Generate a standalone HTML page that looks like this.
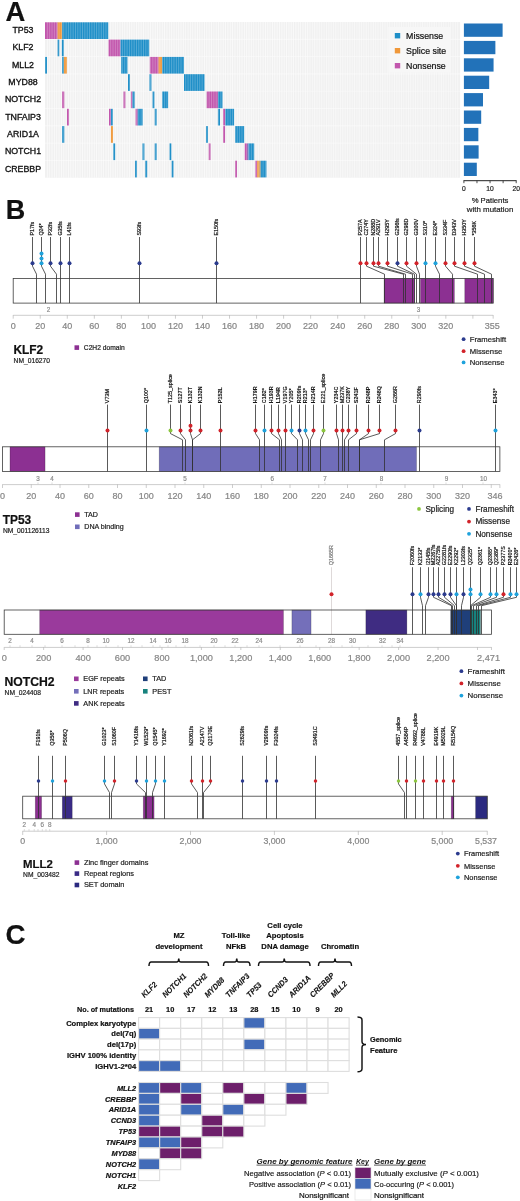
<!DOCTYPE html>
<html lang="en"><head><meta charset="utf-8"><title>Figure</title>
<style>
html,body{margin:0;padding:0;background:#fff;}
body{width:520px;height:1201px;overflow:hidden;font-family:"Liberation Sans", Arial, sans-serif;}
svg{display:block;font-family:"Liberation Sans", Arial, sans-serif;}
</style></head><body>
<svg width="520" height="1201" viewBox="0 0 520 1201">
<rect x="0" y="0" width="520" height="1201" fill="#ffffff"/>
<text x="5.40" y="20.90" font-size="27.4" text-anchor="start" font-weight="bold" font-style="normal" fill="#111" stroke="#111" stroke-width="0.2" >A</text>
<rect x="45.00" y="22.00" width="415.07" height="155.70" fill="#f1f1f1" stroke="none" stroke-width="0" />
<g stroke="#fbfbfb" stroke-width="0.6">
<line x1="47.34" y1="22.0" x2="47.34" y2="177.70"/>
<line x1="49.69" y1="22.0" x2="49.69" y2="177.70"/>
<line x1="52.03" y1="22.0" x2="52.03" y2="177.70"/>
<line x1="54.38" y1="22.0" x2="54.38" y2="177.70"/>
<line x1="56.73" y1="22.0" x2="56.73" y2="177.70"/>
<line x1="59.07" y1="22.0" x2="59.07" y2="177.70"/>
<line x1="61.42" y1="22.0" x2="61.42" y2="177.70"/>
<line x1="63.76" y1="22.0" x2="63.76" y2="177.70"/>
<line x1="66.11" y1="22.0" x2="66.11" y2="177.70"/>
<line x1="68.45" y1="22.0" x2="68.45" y2="177.70"/>
<line x1="70.80" y1="22.0" x2="70.80" y2="177.70"/>
<line x1="73.14" y1="22.0" x2="73.14" y2="177.70"/>
<line x1="75.48" y1="22.0" x2="75.48" y2="177.70"/>
<line x1="77.83" y1="22.0" x2="77.83" y2="177.70"/>
<line x1="80.18" y1="22.0" x2="80.18" y2="177.70"/>
<line x1="82.52" y1="22.0" x2="82.52" y2="177.70"/>
<line x1="84.87" y1="22.0" x2="84.87" y2="177.70"/>
<line x1="87.21" y1="22.0" x2="87.21" y2="177.70"/>
<line x1="89.56" y1="22.0" x2="89.56" y2="177.70"/>
<line x1="91.90" y1="22.0" x2="91.90" y2="177.70"/>
<line x1="94.25" y1="22.0" x2="94.25" y2="177.70"/>
<line x1="96.59" y1="22.0" x2="96.59" y2="177.70"/>
<line x1="98.94" y1="22.0" x2="98.94" y2="177.70"/>
<line x1="101.28" y1="22.0" x2="101.28" y2="177.70"/>
<line x1="103.62" y1="22.0" x2="103.62" y2="177.70"/>
<line x1="105.97" y1="22.0" x2="105.97" y2="177.70"/>
<line x1="108.31" y1="22.0" x2="108.31" y2="177.70"/>
<line x1="110.66" y1="22.0" x2="110.66" y2="177.70"/>
<line x1="113.01" y1="22.0" x2="113.01" y2="177.70"/>
<line x1="115.35" y1="22.0" x2="115.35" y2="177.70"/>
<line x1="117.70" y1="22.0" x2="117.70" y2="177.70"/>
<line x1="120.04" y1="22.0" x2="120.04" y2="177.70"/>
<line x1="122.39" y1="22.0" x2="122.39" y2="177.70"/>
<line x1="124.73" y1="22.0" x2="124.73" y2="177.70"/>
<line x1="127.08" y1="22.0" x2="127.08" y2="177.70"/>
<line x1="129.42" y1="22.0" x2="129.42" y2="177.70"/>
<line x1="131.76" y1="22.0" x2="131.76" y2="177.70"/>
<line x1="134.11" y1="22.0" x2="134.11" y2="177.70"/>
<line x1="136.46" y1="22.0" x2="136.46" y2="177.70"/>
<line x1="138.80" y1="22.0" x2="138.80" y2="177.70"/>
<line x1="141.15" y1="22.0" x2="141.15" y2="177.70"/>
<line x1="143.49" y1="22.0" x2="143.49" y2="177.70"/>
<line x1="145.84" y1="22.0" x2="145.84" y2="177.70"/>
<line x1="148.18" y1="22.0" x2="148.18" y2="177.70"/>
<line x1="150.53" y1="22.0" x2="150.53" y2="177.70"/>
<line x1="152.87" y1="22.0" x2="152.87" y2="177.70"/>
<line x1="155.22" y1="22.0" x2="155.22" y2="177.70"/>
<line x1="157.56" y1="22.0" x2="157.56" y2="177.70"/>
<line x1="159.91" y1="22.0" x2="159.91" y2="177.70"/>
<line x1="162.25" y1="22.0" x2="162.25" y2="177.70"/>
<line x1="164.60" y1="22.0" x2="164.60" y2="177.70"/>
<line x1="166.94" y1="22.0" x2="166.94" y2="177.70"/>
<line x1="169.29" y1="22.0" x2="169.29" y2="177.70"/>
<line x1="171.63" y1="22.0" x2="171.63" y2="177.70"/>
<line x1="173.98" y1="22.0" x2="173.98" y2="177.70"/>
<line x1="176.32" y1="22.0" x2="176.32" y2="177.70"/>
<line x1="178.67" y1="22.0" x2="178.67" y2="177.70"/>
<line x1="181.01" y1="22.0" x2="181.01" y2="177.70"/>
<line x1="183.36" y1="22.0" x2="183.36" y2="177.70"/>
<line x1="185.70" y1="22.0" x2="185.70" y2="177.70"/>
<line x1="188.05" y1="22.0" x2="188.05" y2="177.70"/>
<line x1="190.39" y1="22.0" x2="190.39" y2="177.70"/>
<line x1="192.74" y1="22.0" x2="192.74" y2="177.70"/>
<line x1="195.08" y1="22.0" x2="195.08" y2="177.70"/>
<line x1="197.43" y1="22.0" x2="197.43" y2="177.70"/>
<line x1="199.77" y1="22.0" x2="199.77" y2="177.70"/>
<line x1="202.12" y1="22.0" x2="202.12" y2="177.70"/>
<line x1="204.46" y1="22.0" x2="204.46" y2="177.70"/>
<line x1="206.81" y1="22.0" x2="206.81" y2="177.70"/>
<line x1="209.15" y1="22.0" x2="209.15" y2="177.70"/>
<line x1="211.50" y1="22.0" x2="211.50" y2="177.70"/>
<line x1="213.84" y1="22.0" x2="213.84" y2="177.70"/>
<line x1="216.19" y1="22.0" x2="216.19" y2="177.70"/>
<line x1="218.53" y1="22.0" x2="218.53" y2="177.70"/>
<line x1="220.88" y1="22.0" x2="220.88" y2="177.70"/>
<line x1="223.22" y1="22.0" x2="223.22" y2="177.70"/>
<line x1="225.57" y1="22.0" x2="225.57" y2="177.70"/>
<line x1="227.91" y1="22.0" x2="227.91" y2="177.70"/>
<line x1="230.26" y1="22.0" x2="230.26" y2="177.70"/>
<line x1="232.60" y1="22.0" x2="232.60" y2="177.70"/>
<line x1="234.95" y1="22.0" x2="234.95" y2="177.70"/>
<line x1="237.29" y1="22.0" x2="237.29" y2="177.70"/>
<line x1="239.64" y1="22.0" x2="239.64" y2="177.70"/>
<line x1="241.98" y1="22.0" x2="241.98" y2="177.70"/>
<line x1="244.33" y1="22.0" x2="244.33" y2="177.70"/>
<line x1="246.67" y1="22.0" x2="246.67" y2="177.70"/>
<line x1="249.02" y1="22.0" x2="249.02" y2="177.70"/>
<line x1="251.36" y1="22.0" x2="251.36" y2="177.70"/>
<line x1="253.71" y1="22.0" x2="253.71" y2="177.70"/>
<line x1="256.05" y1="22.0" x2="256.05" y2="177.70"/>
<line x1="258.39" y1="22.0" x2="258.39" y2="177.70"/>
<line x1="260.74" y1="22.0" x2="260.74" y2="177.70"/>
<line x1="263.09" y1="22.0" x2="263.09" y2="177.70"/>
<line x1="265.43" y1="22.0" x2="265.43" y2="177.70"/>
<line x1="267.77" y1="22.0" x2="267.77" y2="177.70"/>
<line x1="270.12" y1="22.0" x2="270.12" y2="177.70"/>
<line x1="272.47" y1="22.0" x2="272.47" y2="177.70"/>
<line x1="274.81" y1="22.0" x2="274.81" y2="177.70"/>
<line x1="277.16" y1="22.0" x2="277.16" y2="177.70"/>
<line x1="279.50" y1="22.0" x2="279.50" y2="177.70"/>
<line x1="281.85" y1="22.0" x2="281.85" y2="177.70"/>
<line x1="284.19" y1="22.0" x2="284.19" y2="177.70"/>
<line x1="286.54" y1="22.0" x2="286.54" y2="177.70"/>
<line x1="288.88" y1="22.0" x2="288.88" y2="177.70"/>
<line x1="291.23" y1="22.0" x2="291.23" y2="177.70"/>
<line x1="293.57" y1="22.0" x2="293.57" y2="177.70"/>
<line x1="295.92" y1="22.0" x2="295.92" y2="177.70"/>
<line x1="298.26" y1="22.0" x2="298.26" y2="177.70"/>
<line x1="300.61" y1="22.0" x2="300.61" y2="177.70"/>
<line x1="302.95" y1="22.0" x2="302.95" y2="177.70"/>
<line x1="305.30" y1="22.0" x2="305.30" y2="177.70"/>
<line x1="307.64" y1="22.0" x2="307.64" y2="177.70"/>
<line x1="309.99" y1="22.0" x2="309.99" y2="177.70"/>
<line x1="312.33" y1="22.0" x2="312.33" y2="177.70"/>
<line x1="314.68" y1="22.0" x2="314.68" y2="177.70"/>
<line x1="317.02" y1="22.0" x2="317.02" y2="177.70"/>
<line x1="319.37" y1="22.0" x2="319.37" y2="177.70"/>
<line x1="321.71" y1="22.0" x2="321.71" y2="177.70"/>
<line x1="324.06" y1="22.0" x2="324.06" y2="177.70"/>
<line x1="326.40" y1="22.0" x2="326.40" y2="177.70"/>
<line x1="328.75" y1="22.0" x2="328.75" y2="177.70"/>
<line x1="331.09" y1="22.0" x2="331.09" y2="177.70"/>
<line x1="333.44" y1="22.0" x2="333.44" y2="177.70"/>
<line x1="335.78" y1="22.0" x2="335.78" y2="177.70"/>
<line x1="338.12" y1="22.0" x2="338.12" y2="177.70"/>
<line x1="340.47" y1="22.0" x2="340.47" y2="177.70"/>
<line x1="342.81" y1="22.0" x2="342.81" y2="177.70"/>
<line x1="345.16" y1="22.0" x2="345.16" y2="177.70"/>
<line x1="347.51" y1="22.0" x2="347.51" y2="177.70"/>
<line x1="349.85" y1="22.0" x2="349.85" y2="177.70"/>
<line x1="352.20" y1="22.0" x2="352.20" y2="177.70"/>
<line x1="354.54" y1="22.0" x2="354.54" y2="177.70"/>
<line x1="356.89" y1="22.0" x2="356.89" y2="177.70"/>
<line x1="359.23" y1="22.0" x2="359.23" y2="177.70"/>
<line x1="361.58" y1="22.0" x2="361.58" y2="177.70"/>
<line x1="363.92" y1="22.0" x2="363.92" y2="177.70"/>
<line x1="366.27" y1="22.0" x2="366.27" y2="177.70"/>
<line x1="368.61" y1="22.0" x2="368.61" y2="177.70"/>
<line x1="370.96" y1="22.0" x2="370.96" y2="177.70"/>
<line x1="373.30" y1="22.0" x2="373.30" y2="177.70"/>
<line x1="375.65" y1="22.0" x2="375.65" y2="177.70"/>
<line x1="377.99" y1="22.0" x2="377.99" y2="177.70"/>
<line x1="380.34" y1="22.0" x2="380.34" y2="177.70"/>
<line x1="382.68" y1="22.0" x2="382.68" y2="177.70"/>
<line x1="385.03" y1="22.0" x2="385.03" y2="177.70"/>
<line x1="387.37" y1="22.0" x2="387.37" y2="177.70"/>
<line x1="389.72" y1="22.0" x2="389.72" y2="177.70"/>
<line x1="392.06" y1="22.0" x2="392.06" y2="177.70"/>
<line x1="394.41" y1="22.0" x2="394.41" y2="177.70"/>
<line x1="396.75" y1="22.0" x2="396.75" y2="177.70"/>
<line x1="399.10" y1="22.0" x2="399.10" y2="177.70"/>
<line x1="401.44" y1="22.0" x2="401.44" y2="177.70"/>
<line x1="403.79" y1="22.0" x2="403.79" y2="177.70"/>
<line x1="406.13" y1="22.0" x2="406.13" y2="177.70"/>
<line x1="408.48" y1="22.0" x2="408.48" y2="177.70"/>
<line x1="410.82" y1="22.0" x2="410.82" y2="177.70"/>
<line x1="413.17" y1="22.0" x2="413.17" y2="177.70"/>
<line x1="415.51" y1="22.0" x2="415.51" y2="177.70"/>
<line x1="417.86" y1="22.0" x2="417.86" y2="177.70"/>
<line x1="420.20" y1="22.0" x2="420.20" y2="177.70"/>
<line x1="422.55" y1="22.0" x2="422.55" y2="177.70"/>
<line x1="424.89" y1="22.0" x2="424.89" y2="177.70"/>
<line x1="427.24" y1="22.0" x2="427.24" y2="177.70"/>
<line x1="429.58" y1="22.0" x2="429.58" y2="177.70"/>
<line x1="431.93" y1="22.0" x2="431.93" y2="177.70"/>
<line x1="434.27" y1="22.0" x2="434.27" y2="177.70"/>
<line x1="436.62" y1="22.0" x2="436.62" y2="177.70"/>
<line x1="438.96" y1="22.0" x2="438.96" y2="177.70"/>
<line x1="441.31" y1="22.0" x2="441.31" y2="177.70"/>
<line x1="443.65" y1="22.0" x2="443.65" y2="177.70"/>
<line x1="446.00" y1="22.0" x2="446.00" y2="177.70"/>
<line x1="448.34" y1="22.0" x2="448.34" y2="177.70"/>
<line x1="450.69" y1="22.0" x2="450.69" y2="177.70"/>
<line x1="453.03" y1="22.0" x2="453.03" y2="177.70"/>
<line x1="455.38" y1="22.0" x2="455.38" y2="177.70"/>
<line x1="457.72" y1="22.0" x2="457.72" y2="177.70"/>
<line x1="45.0" y1="39.30" x2="460.07" y2="39.30"/>
<line x1="45.0" y1="56.60" x2="460.07" y2="56.60"/>
<line x1="45.0" y1="73.90" x2="460.07" y2="73.90"/>
<line x1="45.0" y1="91.20" x2="460.07" y2="91.20"/>
<line x1="45.0" y1="108.50" x2="460.07" y2="108.50"/>
<line x1="45.0" y1="125.80" x2="460.07" y2="125.80"/>
<line x1="45.0" y1="143.10" x2="460.07" y2="143.10"/>
<line x1="45.0" y1="160.40" x2="460.07" y2="160.40"/>
</g>
<rect x="45.00" y="22.30" width="12.60" height="16.70" fill="#c257ad" stroke="none" stroke-width="0" />
<rect x="57.60" y="22.30" width="4.60" height="16.70" fill="#f0983a" stroke="none" stroke-width="0" />
<rect x="62.20" y="22.30" width="46.10" height="16.70" fill="#1f8fc8" stroke="none" stroke-width="0" />
<rect x="57.60" y="39.60" width="1.70" height="16.70" fill="#1f8fc8" stroke="none" stroke-width="0" />
<rect x="61.80" y="39.60" width="2.00" height="16.70" fill="#1f8fc8" stroke="none" stroke-width="0" />
<rect x="108.50" y="39.60" width="12.00" height="16.70" fill="#c257ad" stroke="none" stroke-width="0" />
<rect x="120.50" y="39.60" width="28.70" height="16.70" fill="#1f8fc8" stroke="none" stroke-width="0" />
<rect x="45.20" y="56.90" width="1.80" height="16.70" fill="#1f8fc8" stroke="none" stroke-width="0" />
<rect x="62.20" y="56.90" width="1.70" height="16.70" fill="#1f8fc8" stroke="none" stroke-width="0" />
<rect x="63.90" y="56.90" width="3.00" height="16.70" fill="#f0983a" stroke="none" stroke-width="0" />
<rect x="121.20" y="56.90" width="6.30" height="16.70" fill="#1f8fc8" stroke="none" stroke-width="0" />
<rect x="149.80" y="56.90" width="8.80" height="16.70" fill="#c257ad" stroke="none" stroke-width="0" />
<rect x="158.60" y="56.90" width="3.60" height="16.70" fill="#f0983a" stroke="none" stroke-width="0" />
<rect x="162.20" y="56.90" width="21.80" height="16.70" fill="#1f8fc8" stroke="none" stroke-width="0" />
<rect x="128.00" y="74.20" width="2.00" height="16.70" fill="#1f8fc8" stroke="none" stroke-width="0" />
<rect x="149.50" y="74.20" width="1.90" height="16.70" fill="#1f8fc8" stroke="none" stroke-width="0" />
<rect x="184.00" y="74.20" width="20.60" height="16.70" fill="#1f8fc8" stroke="none" stroke-width="0" />
<rect x="62.20" y="91.50" width="2.10" height="16.70" fill="#c257ad" stroke="none" stroke-width="0" />
<rect x="123.50" y="91.50" width="1.90" height="16.70" fill="#c257ad" stroke="none" stroke-width="0" />
<rect x="130.90" y="91.50" width="1.60" height="16.70" fill="#c257ad" stroke="none" stroke-width="0" />
<rect x="132.50" y="91.50" width="2.20" height="16.70" fill="#1f8fc8" stroke="none" stroke-width="0" />
<rect x="152.50" y="91.50" width="1.90" height="16.70" fill="#1f8fc8" stroke="none" stroke-width="0" />
<rect x="162.20" y="91.50" width="5.90" height="16.70" fill="#1f8fc8" stroke="none" stroke-width="0" />
<rect x="206.60" y="91.50" width="11.30" height="16.70" fill="#c257ad" stroke="none" stroke-width="0" />
<rect x="217.90" y="91.50" width="4.60" height="16.70" fill="#1f8fc8" stroke="none" stroke-width="0" />
<rect x="67.00" y="108.80" width="2.00" height="16.70" fill="#c257ad" stroke="none" stroke-width="0" />
<rect x="109.00" y="108.80" width="1.90" height="16.70" fill="#c257ad" stroke="none" stroke-width="0" />
<rect x="110.90" y="108.80" width="1.90" height="16.70" fill="#1f8fc8" stroke="none" stroke-width="0" />
<rect x="135.60" y="108.80" width="2.10" height="16.70" fill="#c257ad" stroke="none" stroke-width="0" />
<rect x="137.70" y="108.80" width="4.90" height="16.70" fill="#1f8fc8" stroke="none" stroke-width="0" />
<rect x="154.70" y="108.80" width="1.90" height="16.70" fill="#1f8fc8" stroke="none" stroke-width="0" />
<rect x="217.90" y="108.80" width="2.10" height="16.70" fill="#1f8fc8" stroke="none" stroke-width="0" />
<rect x="223.10" y="108.80" width="2.20" height="16.70" fill="#c257ad" stroke="none" stroke-width="0" />
<rect x="225.30" y="108.80" width="8.80" height="16.70" fill="#1f8fc8" stroke="none" stroke-width="0" />
<rect x="62.20" y="126.10" width="2.10" height="16.70" fill="#1f8fc8" stroke="none" stroke-width="0" />
<rect x="110.90" y="126.10" width="2.10" height="16.70" fill="#f0983a" stroke="none" stroke-width="0" />
<rect x="206.00" y="126.10" width="1.90" height="16.70" fill="#1f8fc8" stroke="none" stroke-width="0" />
<rect x="223.10" y="126.10" width="2.00" height="16.70" fill="#c257ad" stroke="none" stroke-width="0" />
<rect x="235.20" y="126.10" width="9.00" height="16.70" fill="#1f8fc8" stroke="none" stroke-width="0" />
<rect x="113.30" y="143.40" width="1.90" height="16.70" fill="#1f8fc8" stroke="none" stroke-width="0" />
<rect x="142.50" y="143.40" width="1.90" height="16.70" fill="#1f8fc8" stroke="none" stroke-width="0" />
<rect x="154.70" y="143.40" width="1.90" height="16.70" fill="#1f8fc8" stroke="none" stroke-width="0" />
<rect x="169.50" y="143.40" width="1.90" height="16.70" fill="#1f8fc8" stroke="none" stroke-width="0" />
<rect x="208.70" y="143.40" width="1.80" height="16.70" fill="#c257ad" stroke="none" stroke-width="0" />
<rect x="244.70" y="143.40" width="2.30" height="16.70" fill="#c257ad" stroke="none" stroke-width="0" />
<rect x="247.00" y="143.40" width="1.50" height="16.70" fill="#8a6fb8" stroke="none" stroke-width="0" />
<rect x="248.50" y="143.40" width="5.70" height="16.70" fill="#1f8fc8" stroke="none" stroke-width="0" />
<rect x="135.10" y="160.70" width="1.90" height="16.70" fill="#1f8fc8" stroke="none" stroke-width="0" />
<rect x="145.20" y="160.70" width="2.00" height="16.70" fill="#1f8fc8" stroke="none" stroke-width="0" />
<rect x="171.60" y="160.70" width="1.90" height="16.70" fill="#1f8fc8" stroke="none" stroke-width="0" />
<rect x="235.20" y="160.70" width="1.80" height="16.70" fill="#c257ad" stroke="none" stroke-width="0" />
<rect x="255.40" y="160.70" width="1.80" height="16.70" fill="#c257ad" stroke="none" stroke-width="0" />
<rect x="257.20" y="160.70" width="2.50" height="16.70" fill="#f0983a" stroke="none" stroke-width="0" />
<rect x="259.70" y="160.70" width="1.30" height="16.70" fill="#7d9a98" stroke="none" stroke-width="0" />
<rect x="261.00" y="160.70" width="5.40" height="16.70" fill="#1f8fc8" stroke="none" stroke-width="0" />
<g stroke="#ffffff" stroke-opacity="0.42" stroke-width="0.6">
<line x1="47.34" y1="22.0" x2="47.34" y2="177.70"/>
<line x1="49.69" y1="22.0" x2="49.69" y2="177.70"/>
<line x1="52.03" y1="22.0" x2="52.03" y2="177.70"/>
<line x1="54.38" y1="22.0" x2="54.38" y2="177.70"/>
<line x1="56.73" y1="22.0" x2="56.73" y2="177.70"/>
<line x1="59.07" y1="22.0" x2="59.07" y2="177.70"/>
<line x1="61.42" y1="22.0" x2="61.42" y2="177.70"/>
<line x1="63.76" y1="22.0" x2="63.76" y2="177.70"/>
<line x1="66.11" y1="22.0" x2="66.11" y2="177.70"/>
<line x1="68.45" y1="22.0" x2="68.45" y2="177.70"/>
<line x1="70.80" y1="22.0" x2="70.80" y2="177.70"/>
<line x1="73.14" y1="22.0" x2="73.14" y2="177.70"/>
<line x1="75.48" y1="22.0" x2="75.48" y2="177.70"/>
<line x1="77.83" y1="22.0" x2="77.83" y2="177.70"/>
<line x1="80.18" y1="22.0" x2="80.18" y2="177.70"/>
<line x1="82.52" y1="22.0" x2="82.52" y2="177.70"/>
<line x1="84.87" y1="22.0" x2="84.87" y2="177.70"/>
<line x1="87.21" y1="22.0" x2="87.21" y2="177.70"/>
<line x1="89.56" y1="22.0" x2="89.56" y2="177.70"/>
<line x1="91.90" y1="22.0" x2="91.90" y2="177.70"/>
<line x1="94.25" y1="22.0" x2="94.25" y2="177.70"/>
<line x1="96.59" y1="22.0" x2="96.59" y2="177.70"/>
<line x1="98.94" y1="22.0" x2="98.94" y2="177.70"/>
<line x1="101.28" y1="22.0" x2="101.28" y2="177.70"/>
<line x1="103.62" y1="22.0" x2="103.62" y2="177.70"/>
<line x1="105.97" y1="22.0" x2="105.97" y2="177.70"/>
<line x1="108.31" y1="22.0" x2="108.31" y2="177.70"/>
<line x1="110.66" y1="22.0" x2="110.66" y2="177.70"/>
<line x1="113.01" y1="22.0" x2="113.01" y2="177.70"/>
<line x1="115.35" y1="22.0" x2="115.35" y2="177.70"/>
<line x1="117.70" y1="22.0" x2="117.70" y2="177.70"/>
<line x1="120.04" y1="22.0" x2="120.04" y2="177.70"/>
<line x1="122.39" y1="22.0" x2="122.39" y2="177.70"/>
<line x1="124.73" y1="22.0" x2="124.73" y2="177.70"/>
<line x1="127.08" y1="22.0" x2="127.08" y2="177.70"/>
<line x1="129.42" y1="22.0" x2="129.42" y2="177.70"/>
<line x1="131.76" y1="22.0" x2="131.76" y2="177.70"/>
<line x1="134.11" y1="22.0" x2="134.11" y2="177.70"/>
<line x1="136.46" y1="22.0" x2="136.46" y2="177.70"/>
<line x1="138.80" y1="22.0" x2="138.80" y2="177.70"/>
<line x1="141.15" y1="22.0" x2="141.15" y2="177.70"/>
<line x1="143.49" y1="22.0" x2="143.49" y2="177.70"/>
<line x1="145.84" y1="22.0" x2="145.84" y2="177.70"/>
<line x1="148.18" y1="22.0" x2="148.18" y2="177.70"/>
<line x1="150.53" y1="22.0" x2="150.53" y2="177.70"/>
<line x1="152.87" y1="22.0" x2="152.87" y2="177.70"/>
<line x1="155.22" y1="22.0" x2="155.22" y2="177.70"/>
<line x1="157.56" y1="22.0" x2="157.56" y2="177.70"/>
<line x1="159.91" y1="22.0" x2="159.91" y2="177.70"/>
<line x1="162.25" y1="22.0" x2="162.25" y2="177.70"/>
<line x1="164.60" y1="22.0" x2="164.60" y2="177.70"/>
<line x1="166.94" y1="22.0" x2="166.94" y2="177.70"/>
<line x1="169.29" y1="22.0" x2="169.29" y2="177.70"/>
<line x1="171.63" y1="22.0" x2="171.63" y2="177.70"/>
<line x1="173.98" y1="22.0" x2="173.98" y2="177.70"/>
<line x1="176.32" y1="22.0" x2="176.32" y2="177.70"/>
<line x1="178.67" y1="22.0" x2="178.67" y2="177.70"/>
<line x1="181.01" y1="22.0" x2="181.01" y2="177.70"/>
<line x1="183.36" y1="22.0" x2="183.36" y2="177.70"/>
<line x1="185.70" y1="22.0" x2="185.70" y2="177.70"/>
<line x1="188.05" y1="22.0" x2="188.05" y2="177.70"/>
<line x1="190.39" y1="22.0" x2="190.39" y2="177.70"/>
<line x1="192.74" y1="22.0" x2="192.74" y2="177.70"/>
<line x1="195.08" y1="22.0" x2="195.08" y2="177.70"/>
<line x1="197.43" y1="22.0" x2="197.43" y2="177.70"/>
<line x1="199.77" y1="22.0" x2="199.77" y2="177.70"/>
<line x1="202.12" y1="22.0" x2="202.12" y2="177.70"/>
<line x1="204.46" y1="22.0" x2="204.46" y2="177.70"/>
<line x1="206.81" y1="22.0" x2="206.81" y2="177.70"/>
<line x1="209.15" y1="22.0" x2="209.15" y2="177.70"/>
<line x1="211.50" y1="22.0" x2="211.50" y2="177.70"/>
<line x1="213.84" y1="22.0" x2="213.84" y2="177.70"/>
<line x1="216.19" y1="22.0" x2="216.19" y2="177.70"/>
<line x1="218.53" y1="22.0" x2="218.53" y2="177.70"/>
<line x1="220.88" y1="22.0" x2="220.88" y2="177.70"/>
<line x1="223.22" y1="22.0" x2="223.22" y2="177.70"/>
<line x1="225.57" y1="22.0" x2="225.57" y2="177.70"/>
<line x1="227.91" y1="22.0" x2="227.91" y2="177.70"/>
<line x1="230.26" y1="22.0" x2="230.26" y2="177.70"/>
<line x1="232.60" y1="22.0" x2="232.60" y2="177.70"/>
<line x1="234.95" y1="22.0" x2="234.95" y2="177.70"/>
<line x1="237.29" y1="22.0" x2="237.29" y2="177.70"/>
<line x1="239.64" y1="22.0" x2="239.64" y2="177.70"/>
<line x1="241.98" y1="22.0" x2="241.98" y2="177.70"/>
<line x1="244.33" y1="22.0" x2="244.33" y2="177.70"/>
<line x1="246.67" y1="22.0" x2="246.67" y2="177.70"/>
<line x1="249.02" y1="22.0" x2="249.02" y2="177.70"/>
<line x1="251.36" y1="22.0" x2="251.36" y2="177.70"/>
<line x1="253.71" y1="22.0" x2="253.71" y2="177.70"/>
<line x1="256.05" y1="22.0" x2="256.05" y2="177.70"/>
<line x1="258.39" y1="22.0" x2="258.39" y2="177.70"/>
<line x1="260.74" y1="22.0" x2="260.74" y2="177.70"/>
<line x1="263.09" y1="22.0" x2="263.09" y2="177.70"/>
<line x1="265.43" y1="22.0" x2="265.43" y2="177.70"/>
<line x1="267.77" y1="22.0" x2="267.77" y2="177.70"/>
<line x1="270.12" y1="22.0" x2="270.12" y2="177.70"/>
<line x1="272.47" y1="22.0" x2="272.47" y2="177.70"/>
<line x1="274.81" y1="22.0" x2="274.81" y2="177.70"/>
<line x1="277.16" y1="22.0" x2="277.16" y2="177.70"/>
<line x1="279.50" y1="22.0" x2="279.50" y2="177.70"/>
<line x1="281.85" y1="22.0" x2="281.85" y2="177.70"/>
<line x1="284.19" y1="22.0" x2="284.19" y2="177.70"/>
<line x1="286.54" y1="22.0" x2="286.54" y2="177.70"/>
<line x1="288.88" y1="22.0" x2="288.88" y2="177.70"/>
<line x1="291.23" y1="22.0" x2="291.23" y2="177.70"/>
<line x1="293.57" y1="22.0" x2="293.57" y2="177.70"/>
<line x1="295.92" y1="22.0" x2="295.92" y2="177.70"/>
<line x1="298.26" y1="22.0" x2="298.26" y2="177.70"/>
<line x1="300.61" y1="22.0" x2="300.61" y2="177.70"/>
<line x1="302.95" y1="22.0" x2="302.95" y2="177.70"/>
<line x1="305.30" y1="22.0" x2="305.30" y2="177.70"/>
<line x1="307.64" y1="22.0" x2="307.64" y2="177.70"/>
</g>
<text x="23.00" y="33.15" font-size="8.8" text-anchor="middle" font-weight="normal" font-style="normal" fill="#111" stroke="#111" stroke-width="0.2" style="stroke-width:0.32">TP53</text>
<text x="23.00" y="50.45" font-size="8.8" text-anchor="middle" font-weight="normal" font-style="normal" fill="#111" stroke="#111" stroke-width="0.2" style="stroke-width:0.32">KLF2</text>
<text x="23.00" y="67.75" font-size="8.8" text-anchor="middle" font-weight="normal" font-style="normal" fill="#111" stroke="#111" stroke-width="0.2" style="stroke-width:0.32">MLL2</text>
<text x="23.00" y="85.05" font-size="8.8" text-anchor="middle" font-weight="normal" font-style="normal" fill="#111" stroke="#111" stroke-width="0.2" style="stroke-width:0.32">MYD88</text>
<text x="23.00" y="102.35" font-size="8.8" text-anchor="middle" font-weight="normal" font-style="normal" fill="#111" stroke="#111" stroke-width="0.2" style="stroke-width:0.32">NOTCH2</text>
<text x="23.00" y="119.65" font-size="8.8" text-anchor="middle" font-weight="normal" font-style="normal" fill="#111" stroke="#111" stroke-width="0.2" style="stroke-width:0.32">TNFAIP3</text>
<text x="23.00" y="136.95" font-size="8.8" text-anchor="middle" font-weight="normal" font-style="normal" fill="#111" stroke="#111" stroke-width="0.2" style="stroke-width:0.32">ARID1A</text>
<text x="23.00" y="154.25" font-size="8.8" text-anchor="middle" font-weight="normal" font-style="normal" fill="#111" stroke="#111" stroke-width="0.2" style="stroke-width:0.32">NOTCH1</text>
<text x="23.00" y="171.55" font-size="8.8" text-anchor="middle" font-weight="normal" font-style="normal" fill="#111" stroke="#111" stroke-width="0.2" style="stroke-width:0.32">CREBBP</text>
<rect x="388.30" y="27.00" width="62.00" height="45.60" fill="#f7f7f7" stroke="none" stroke-width="0" />
<rect x="394.80" y="33.00" width="5.40" height="5.40" fill="#1f8fc8" stroke="none" stroke-width="0" />
<text x="406.10" y="38.80" font-size="8.8" text-anchor="start" font-weight="normal" font-style="normal" fill="#111" stroke="#111" stroke-width="0.2" >Missense</text>
<rect x="394.80" y="48.00" width="5.40" height="5.40" fill="#f0983a" stroke="none" stroke-width="0" />
<text x="406.10" y="53.80" font-size="8.8" text-anchor="start" font-weight="normal" font-style="normal" fill="#111" stroke="#111" stroke-width="0.2" >Splice site</text>
<rect x="394.80" y="63.00" width="5.40" height="5.40" fill="#c257ad" stroke="none" stroke-width="0" />
<text x="406.10" y="68.80" font-size="8.8" text-anchor="start" font-weight="normal" font-style="normal" fill="#111" stroke="#111" stroke-width="0.2" >Nonsense</text>
<rect x="463.90" y="23.50" width="38.70" height="13.30" fill="#2272b9" stroke="none" stroke-width="0" />
<rect x="463.90" y="40.90" width="31.48" height="13.30" fill="#2272b9" stroke="none" stroke-width="0" />
<rect x="463.90" y="58.30" width="29.67" height="13.30" fill="#2272b9" stroke="none" stroke-width="0" />
<rect x="463.90" y="75.70" width="25.28" height="13.30" fill="#2272b9" stroke="none" stroke-width="0" />
<rect x="463.90" y="93.10" width="19.09" height="13.30" fill="#2272b9" stroke="none" stroke-width="0" />
<rect x="463.90" y="110.50" width="17.29" height="13.30" fill="#2272b9" stroke="none" stroke-width="0" />
<rect x="463.90" y="127.90" width="14.45" height="13.30" fill="#2272b9" stroke="none" stroke-width="0" />
<rect x="463.90" y="145.30" width="14.71" height="13.30" fill="#2272b9" stroke="none" stroke-width="0" />
<rect x="463.90" y="162.70" width="12.90" height="13.30" fill="#2272b9" stroke="none" stroke-width="0" />
<line x1="463.50" y1="180.70" x2="516.60" y2="180.70" stroke="#222" stroke-width="1.0" />
<line x1="463.90" y1="180.70" x2="463.90" y2="183.20" stroke="#222" stroke-width="0.8" />
<line x1="476.97" y1="180.70" x2="476.97" y2="183.20" stroke="#222" stroke-width="0.8" />
<line x1="490.05" y1="180.70" x2="490.05" y2="183.20" stroke="#222" stroke-width="0.8" />
<line x1="503.12" y1="180.70" x2="503.12" y2="183.20" stroke="#222" stroke-width="0.8" />
<line x1="516.20" y1="180.70" x2="516.20" y2="183.20" stroke="#222" stroke-width="0.8" />
<text x="463.90" y="191.20" font-size="6.7" text-anchor="middle" font-weight="normal" font-style="normal" fill="#222" stroke="#222" stroke-width="0.2" >0</text>
<text x="490.05" y="191.20" font-size="6.7" text-anchor="middle" font-weight="normal" font-style="normal" fill="#222" stroke="#222" stroke-width="0.2" >10</text>
<text x="516.20" y="191.20" font-size="6.7" text-anchor="middle" font-weight="normal" font-style="normal" fill="#222" stroke="#222" stroke-width="0.2" >20</text>
<text x="490.00" y="202.80" font-size="7.7" text-anchor="middle" font-weight="normal" font-style="normal" fill="#222" stroke="#222" stroke-width="0.2" >% Patients</text>
<text x="490.10" y="212.00" font-size="7.9" text-anchor="middle" font-weight="normal" font-style="normal" fill="#222" stroke="#222" stroke-width="0.2" >with mutation</text>
<text x="5.70" y="218.60" font-size="27.0" text-anchor="start" font-weight="bold" font-style="normal" fill="#111" stroke="#111" stroke-width="0.2" >B</text>
<rect x="13.20" y="278.50" width="479.96" height="24.60" fill="#ffffff" stroke="none" stroke-width="0" />
<rect x="384.05" y="278.50" width="30.42" height="24.60" fill="#8c3092" stroke="#000" stroke-width="0.7" stroke-opacity="0.28"/>
<rect x="420.42" y="278.50" width="33.94" height="24.60" fill="#8c3092" stroke="#000" stroke-width="0.7" stroke-opacity="0.28"/>
<rect x="464.77" y="278.50" width="28.39" height="24.60" fill="#8c3092" stroke="#000" stroke-width="0.7" stroke-opacity="0.28"/>
<polyline fill="none" stroke="#303030" stroke-width="0.8" points="32.50,237.00 32.50,266.20 36.50,274.20 36.50,303.10"/>
<circle cx="32.50" cy="263.20" r="2.0" fill="#2b3b8e"/>
<text transform="translate(34.05,235.60) rotate(-90)" font-size="5.4" font-weight="normal" fill="#1a1a1a" stroke="#1a1a1a" stroke-width="0.22">P17fs</text>
<polyline fill="none" stroke="#303030" stroke-width="0.8" points="41.50,237.00 41.50,266.20 45.50,274.20 45.50,303.10"/>
<circle cx="41.50" cy="263.20" r="2.0" fill="#1ea2dc"/>
<circle cx="41.50" cy="258.40" r="2.0" fill="#1ea2dc"/>
<circle cx="41.50" cy="253.60" r="2.0" fill="#1ea2dc"/>
<text transform="translate(43.30,235.60) rotate(-90)" font-size="5.4" font-weight="normal" fill="#1a1a1a" stroke="#1a1a1a" stroke-width="0.22">Q24*</text>
<polyline fill="none" stroke="#303030" stroke-width="0.8" points="50.50,237.00 50.50,266.20 56.50,274.20 56.50,303.10"/>
<circle cx="50.50" cy="263.20" r="2.0" fill="#2b3b8e"/>
<text transform="translate(52.30,235.60) rotate(-90)" font-size="5.4" font-weight="normal" fill="#1a1a1a" stroke="#1a1a1a" stroke-width="0.22">P32fs</text>
<polyline fill="none" stroke="#303030" stroke-width="0.8" points="60.50,237.00 60.50,303.10"/>
<circle cx="60.50" cy="263.20" r="2.0" fill="#2b3b8e"/>
<text transform="translate(61.55,235.60) rotate(-90)" font-size="5.4" font-weight="normal" fill="#1a1a1a" stroke="#1a1a1a" stroke-width="0.22">G35fs</text>
<polyline fill="none" stroke="#303030" stroke-width="0.8" points="69.50,237.00 69.50,303.10"/>
<circle cx="69.50" cy="263.20" r="2.0" fill="#2b3b8e"/>
<text transform="translate(71.05,235.60) rotate(-90)" font-size="5.4" font-weight="normal" fill="#1a1a1a" stroke="#1a1a1a" stroke-width="0.22">L41fs</text>
<polyline fill="none" stroke="#303030" stroke-width="0.8" points="139.50,237.00 139.50,303.10"/>
<circle cx="139.50" cy="263.20" r="2.0" fill="#2b3b8e"/>
<text transform="translate(140.55,235.60) rotate(-90)" font-size="5.4" font-weight="normal" fill="#1a1a1a" stroke="#1a1a1a" stroke-width="0.22">S93fs</text>
<polyline fill="none" stroke="#303030" stroke-width="0.8" points="216.50,237.00 216.50,303.10"/>
<circle cx="216.50" cy="263.20" r="2.0" fill="#2b3b8e"/>
<text transform="translate(217.55,235.60) rotate(-90)" font-size="5.4" font-weight="normal" fill="#1a1a1a" stroke="#1a1a1a" stroke-width="0.22">E150fs</text>
<polyline fill="none" stroke="#303030" stroke-width="0.8" points="360.50,237.00 360.50,303.10"/>
<circle cx="360.50" cy="263.20" r="2.0" fill="#d2232a"/>
<text transform="translate(361.65,235.60) rotate(-90)" font-size="5.4" font-weight="normal" fill="#1a1a1a" stroke="#1a1a1a" stroke-width="0.22">P257A</text>
<polyline fill="none" stroke="#303030" stroke-width="0.8" points="366.50,237.00 366.50,266.20 384.50,274.20 384.50,303.10"/>
<circle cx="366.50" cy="263.20" r="2.0" fill="#d2232a"/>
<text transform="translate(368.25,235.60) rotate(-90)" font-size="5.4" font-weight="normal" fill="#1a1a1a" stroke="#1a1a1a" stroke-width="0.22">C274Y</text>
<polyline fill="none" stroke="#303030" stroke-width="0.8" points="373.50,237.00 373.50,266.20 403.50,274.20 403.50,303.10"/>
<circle cx="373.50" cy="263.20" r="2.0" fill="#d2232a"/>
<text transform="translate(374.65,235.60) rotate(-90)" font-size="5.4" font-weight="normal" fill="#1a1a1a" stroke="#1a1a1a" stroke-width="0.22">N288D</text>
<polyline fill="none" stroke="#303030" stroke-width="0.8" points="378.50,237.00 378.50,266.20 405.50,274.20 405.50,303.10"/>
<circle cx="378.50" cy="263.20" r="2.0" fill="#d2232a"/>
<text transform="translate(379.55,235.60) rotate(-90)" font-size="5.4" font-weight="normal" fill="#1a1a1a" stroke="#1a1a1a" stroke-width="0.22">A291V</text>
<polyline fill="none" stroke="#303030" stroke-width="0.8" points="387.50,237.00 387.50,266.20 412.50,274.20 412.50,303.10"/>
<circle cx="387.50" cy="263.20" r="2.0" fill="#d2232a"/>
<text transform="translate(389.05,235.60) rotate(-90)" font-size="5.4" font-weight="normal" fill="#1a1a1a" stroke="#1a1a1a" stroke-width="0.22">H295Y</text>
<polyline fill="none" stroke="#303030" stroke-width="0.8" points="397.50,237.00 397.50,266.20 414.50,274.20 414.50,303.10"/>
<circle cx="397.50" cy="263.20" r="2.0" fill="#2b3b8e"/>
<text transform="translate(398.55,235.60) rotate(-90)" font-size="5.4" font-weight="normal" fill="#1a1a1a" stroke="#1a1a1a" stroke-width="0.22">G296fs</text>
<polyline fill="none" stroke="#303030" stroke-width="0.8" points="406.50,237.00 406.50,266.20 416.50,274.20 416.50,303.10"/>
<circle cx="406.50" cy="263.20" r="2.0" fill="#d2232a"/>
<text transform="translate(408.35,235.60) rotate(-90)" font-size="5.4" font-weight="normal" fill="#1a1a1a" stroke="#1a1a1a" stroke-width="0.22">G298D</text>
<polyline fill="none" stroke="#303030" stroke-width="0.8" points="416.50,237.00 416.50,266.20 419.50,274.20 419.50,303.10"/>
<circle cx="416.50" cy="263.20" r="2.0" fill="#d2232a"/>
<text transform="translate(418.45,235.60) rotate(-90)" font-size="5.4" font-weight="normal" fill="#1a1a1a" stroke="#1a1a1a" stroke-width="0.22">G300V</text>
<polyline fill="none" stroke="#303030" stroke-width="0.8" points="425.50,237.00 425.50,303.10"/>
<circle cx="425.50" cy="263.20" r="2.0" fill="#1ea2dc"/>
<text transform="translate(427.45,235.60) rotate(-90)" font-size="5.4" font-weight="normal" fill="#1a1a1a" stroke="#1a1a1a" stroke-width="0.22">S310*</text>
<polyline fill="none" stroke="#303030" stroke-width="0.8" points="435.50,237.00 435.50,266.20 439.50,274.20 439.50,303.10"/>
<circle cx="435.50" cy="263.20" r="2.0" fill="#1ea2dc"/>
<text transform="translate(437.25,235.60) rotate(-90)" font-size="5.4" font-weight="normal" fill="#1a1a1a" stroke="#1a1a1a" stroke-width="0.22">E324*</text>
<polyline fill="none" stroke="#303030" stroke-width="0.8" points="445.50,237.00 445.50,266.20 452.50,274.20 452.50,303.10"/>
<circle cx="445.50" cy="263.20" r="2.0" fill="#d2232a"/>
<text transform="translate(446.75,235.60) rotate(-90)" font-size="5.4" font-weight="normal" fill="#1a1a1a" stroke="#1a1a1a" stroke-width="0.22">S334F</text>
<polyline fill="none" stroke="#303030" stroke-width="0.8" points="454.50,237.00 454.50,266.20 477.50,274.20 477.50,303.10"/>
<circle cx="454.50" cy="263.20" r="2.0" fill="#d2232a"/>
<text transform="translate(456.25,235.60) rotate(-90)" font-size="5.4" font-weight="normal" fill="#1a1a1a" stroke="#1a1a1a" stroke-width="0.22">D343V</text>
<polyline fill="none" stroke="#303030" stroke-width="0.8" points="464.50,237.00 464.50,266.20 484.50,274.20 484.50,303.10"/>
<circle cx="464.50" cy="263.20" r="2.0" fill="#d2232a"/>
<text transform="translate(466.05,235.60) rotate(-90)" font-size="5.4" font-weight="normal" fill="#1a1a1a" stroke="#1a1a1a" stroke-width="0.22">H350Y</text>
<polyline fill="none" stroke="#303030" stroke-width="0.8" points="474.50,237.00 474.50,266.20 491.50,274.20 491.50,303.10"/>
<circle cx="474.50" cy="263.20" r="2.0" fill="#d2232a"/>
<text transform="translate(475.55,235.60) rotate(-90)" font-size="5.4" font-weight="normal" fill="#1a1a1a" stroke="#1a1a1a" stroke-width="0.22">*356K</text>
<rect x="13.20" y="278.50" width="479.96" height="24.60" fill="none" stroke="#3c3c3c" stroke-width="0.8" />
<text x="48.50" y="311.60" font-size="6.3" text-anchor="middle" font-weight="normal" font-style="normal" fill="#8c8c8c" stroke="#8c8c8c" stroke-width="0.2" >2</text>
<text x="418.50" y="311.60" font-size="6.3" text-anchor="middle" font-weight="normal" font-style="normal" fill="#8c8c8c" stroke="#8c8c8c" stroke-width="0.2" >3</text>
<line x1="13.20" y1="315.30" x2="493.16" y2="315.30" stroke="#b8b8b8" stroke-width="0.7" />
<line x1="13.20" y1="315.00" x2="13.20" y2="318.70" stroke="#b8b8b8" stroke-width="0.7" />
<line x1="40.24" y1="315.00" x2="40.24" y2="318.70" stroke="#b8b8b8" stroke-width="0.7" />
<line x1="67.28" y1="315.00" x2="67.28" y2="318.70" stroke="#b8b8b8" stroke-width="0.7" />
<line x1="94.32" y1="315.00" x2="94.32" y2="318.70" stroke="#b8b8b8" stroke-width="0.7" />
<line x1="121.36" y1="315.00" x2="121.36" y2="318.70" stroke="#b8b8b8" stroke-width="0.7" />
<line x1="148.40" y1="315.00" x2="148.40" y2="318.70" stroke="#b8b8b8" stroke-width="0.7" />
<line x1="175.44" y1="315.00" x2="175.44" y2="318.70" stroke="#b8b8b8" stroke-width="0.7" />
<line x1="202.48" y1="315.00" x2="202.48" y2="318.70" stroke="#b8b8b8" stroke-width="0.7" />
<line x1="229.52" y1="315.00" x2="229.52" y2="318.70" stroke="#b8b8b8" stroke-width="0.7" />
<line x1="256.56" y1="315.00" x2="256.56" y2="318.70" stroke="#b8b8b8" stroke-width="0.7" />
<line x1="283.60" y1="315.00" x2="283.60" y2="318.70" stroke="#b8b8b8" stroke-width="0.7" />
<line x1="310.64" y1="315.00" x2="310.64" y2="318.70" stroke="#b8b8b8" stroke-width="0.7" />
<line x1="337.68" y1="315.00" x2="337.68" y2="318.70" stroke="#b8b8b8" stroke-width="0.7" />
<line x1="364.72" y1="315.00" x2="364.72" y2="318.70" stroke="#b8b8b8" stroke-width="0.7" />
<line x1="391.76" y1="315.00" x2="391.76" y2="318.70" stroke="#b8b8b8" stroke-width="0.7" />
<line x1="418.80" y1="315.00" x2="418.80" y2="318.70" stroke="#b8b8b8" stroke-width="0.7" />
<line x1="445.84" y1="315.00" x2="445.84" y2="318.70" stroke="#b8b8b8" stroke-width="0.7" />
<line x1="472.88" y1="315.00" x2="472.88" y2="318.70" stroke="#b8b8b8" stroke-width="0.7" />
<line x1="493.16" y1="315.00" x2="493.16" y2="318.70" stroke="#b8b8b8" stroke-width="0.7" />
<text x="13.20" y="329.40" font-size="9.0" text-anchor="middle" font-weight="normal" font-style="normal" fill="#868686" stroke="#868686" stroke-width="0.2" >0</text>
<text x="40.24" y="329.40" font-size="9.0" text-anchor="middle" font-weight="normal" font-style="normal" fill="#868686" stroke="#868686" stroke-width="0.2" >20</text>
<text x="67.28" y="329.40" font-size="9.0" text-anchor="middle" font-weight="normal" font-style="normal" fill="#868686" stroke="#868686" stroke-width="0.2" >40</text>
<text x="94.32" y="329.40" font-size="9.0" text-anchor="middle" font-weight="normal" font-style="normal" fill="#868686" stroke="#868686" stroke-width="0.2" >60</text>
<text x="121.36" y="329.40" font-size="9.0" text-anchor="middle" font-weight="normal" font-style="normal" fill="#868686" stroke="#868686" stroke-width="0.2" >80</text>
<text x="148.40" y="329.40" font-size="9.0" text-anchor="middle" font-weight="normal" font-style="normal" fill="#868686" stroke="#868686" stroke-width="0.2" >100</text>
<text x="175.44" y="329.40" font-size="9.0" text-anchor="middle" font-weight="normal" font-style="normal" fill="#868686" stroke="#868686" stroke-width="0.2" >120</text>
<text x="202.48" y="329.40" font-size="9.0" text-anchor="middle" font-weight="normal" font-style="normal" fill="#868686" stroke="#868686" stroke-width="0.2" >140</text>
<text x="229.52" y="329.40" font-size="9.0" text-anchor="middle" font-weight="normal" font-style="normal" fill="#868686" stroke="#868686" stroke-width="0.2" >160</text>
<text x="256.56" y="329.40" font-size="9.0" text-anchor="middle" font-weight="normal" font-style="normal" fill="#868686" stroke="#868686" stroke-width="0.2" >180</text>
<text x="283.60" y="329.40" font-size="9.0" text-anchor="middle" font-weight="normal" font-style="normal" fill="#868686" stroke="#868686" stroke-width="0.2" >200</text>
<text x="310.64" y="329.40" font-size="9.0" text-anchor="middle" font-weight="normal" font-style="normal" fill="#868686" stroke="#868686" stroke-width="0.2" >220</text>
<text x="337.68" y="329.40" font-size="9.0" text-anchor="middle" font-weight="normal" font-style="normal" fill="#868686" stroke="#868686" stroke-width="0.2" >240</text>
<text x="364.72" y="329.40" font-size="9.0" text-anchor="middle" font-weight="normal" font-style="normal" fill="#868686" stroke="#868686" stroke-width="0.2" >260</text>
<text x="391.76" y="329.40" font-size="9.0" text-anchor="middle" font-weight="normal" font-style="normal" fill="#868686" stroke="#868686" stroke-width="0.2" >280</text>
<text x="418.80" y="329.40" font-size="9.0" text-anchor="middle" font-weight="normal" font-style="normal" fill="#868686" stroke="#868686" stroke-width="0.2" >300</text>
<text x="445.84" y="329.40" font-size="9.0" text-anchor="middle" font-weight="normal" font-style="normal" fill="#868686" stroke="#868686" stroke-width="0.2" >320</text>
<text x="492.30" y="329.40" font-size="9.0" text-anchor="middle" font-weight="normal" font-style="normal" fill="#868686" stroke="#868686" stroke-width="0.2" >355</text>
<text x="13.50" y="354.20" font-size="11.9" text-anchor="start" font-weight="bold" font-style="normal" fill="#111" stroke="#111" stroke-width="0.2" >KLF2</text>
<text x="13.60" y="362.60" font-size="6.7" text-anchor="start" font-weight="normal" font-style="normal" fill="#222" stroke="#222" stroke-width="0.2" >NM_016270</text>
<rect x="74.50" y="345.30" width="4.60" height="4.60" fill="#8c3092" stroke="none" stroke-width="0" />
<text x="83.80" y="350.00" font-size="6.7" text-anchor="start" font-weight="normal" font-style="normal" fill="#222" stroke="#222" stroke-width="0.2" >C2H2 domain</text>
<circle cx="463.60" cy="339.20" r="1.9" fill="#2b3b8e"/>
<text x="469.80" y="341.95" font-size="7.7" text-anchor="start" font-weight="normal" font-style="normal" fill="#222" stroke="#222" stroke-width="0.2" >Frameshift</text>
<circle cx="463.60" cy="351.20" r="1.9" fill="#d2232a"/>
<text x="469.80" y="353.95" font-size="7.7" text-anchor="start" font-weight="normal" font-style="normal" fill="#222" stroke="#222" stroke-width="0.2" >Missense</text>
<circle cx="463.60" cy="362.40" r="1.9" fill="#1ea2dc"/>
<text x="469.80" y="365.15" font-size="7.7" text-anchor="start" font-weight="normal" font-style="normal" fill="#222" stroke="#222" stroke-width="0.2" >Nonsense</text>
<rect x="2.50" y="446.80" width="497.38" height="24.60" fill="#ffffff" stroke="none" stroke-width="0" />
<rect x="9.98" y="446.80" width="35.08" height="24.60" fill="#8c3092" stroke="#000" stroke-width="0.7" stroke-opacity="0.28"/>
<rect x="159.19" y="446.80" width="257.31" height="24.60" fill="#706db9" stroke="#000" stroke-width="0.7" stroke-opacity="0.28"/>
<polyline fill="none" stroke="#303030" stroke-width="0.8" points="107.50,404.60 107.50,471.40"/>
<circle cx="107.50" cy="430.60" r="2.0" fill="#d2232a"/>
<text transform="translate(109.05,403.20) rotate(-90)" font-size="5.4" font-weight="normal" fill="#1a1a1a" stroke="#1a1a1a" stroke-width="0.22">V73M</text>
<polyline fill="none" stroke="#303030" stroke-width="0.8" points="146.50,404.60 146.50,471.40"/>
<circle cx="146.50" cy="430.60" r="2.0" fill="#1ea2dc"/>
<text transform="translate(147.75,403.20) rotate(-90)" font-size="5.4" font-weight="bold" fill="#1a1a1a" stroke="#1a1a1a" stroke-width="0.12">Q100*</text>
<polyline fill="none" stroke="#303030" stroke-width="0.8" points="170.50,404.60 170.50,433.60 182.50,439.80 182.50,471.40"/>
<circle cx="170.50" cy="430.60" r="2.0" fill="#8cc63f"/>
<text transform="translate(171.95,403.20) rotate(-90)" font-size="5.4" font-weight="normal" fill="#1a1a1a" stroke="#1a1a1a" stroke-width="0.22">T125_splice</text>
<polyline fill="none" stroke="#303030" stroke-width="0.8" points="180.50,404.60 180.50,433.60 185.50,439.80 185.50,471.40"/>
<circle cx="180.50" cy="430.60" r="2.0" fill="#d2232a"/>
<text transform="translate(181.55,403.20) rotate(-90)" font-size="5.4" font-weight="bold" fill="#1a1a1a" stroke="#1a1a1a" stroke-width="0.12">S127T</text>
<polyline fill="none" stroke="#303030" stroke-width="0.8" points="190.50,404.60 190.50,433.60 192.50,439.80 192.50,471.40"/>
<circle cx="190.50" cy="430.60" r="2.0" fill="#d2232a"/>
<circle cx="190.50" cy="425.80" r="2.0" fill="#d2232a"/>
<text transform="translate(191.95,403.20) rotate(-90)" font-size="5.4" font-weight="bold" fill="#1a1a1a" stroke="#1a1a1a" stroke-width="0.12">K132T</text>
<polyline fill="none" stroke="#303030" stroke-width="0.8" points="200.50,404.60 200.50,433.60 192.50,439.80 192.50,471.40"/>
<circle cx="200.50" cy="430.60" r="2.0" fill="#d2232a"/>
<text transform="translate(201.95,403.20) rotate(-90)" font-size="5.4" font-weight="bold" fill="#1a1a1a" stroke="#1a1a1a" stroke-width="0.12">K132N</text>
<polyline fill="none" stroke="#303030" stroke-width="0.8" points="220.50,404.60 220.50,471.40"/>
<circle cx="220.50" cy="430.60" r="2.0" fill="#d2232a"/>
<text transform="translate(222.15,403.20) rotate(-90)" font-size="5.4" font-weight="bold" fill="#1a1a1a" stroke="#1a1a1a" stroke-width="0.12">P152L</text>
<polyline fill="none" stroke="#303030" stroke-width="0.8" points="255.50,404.60 255.50,433.60 259.50,439.80 259.50,471.40"/>
<circle cx="255.50" cy="430.60" r="2.0" fill="#d2232a"/>
<text transform="translate(257.35,403.20) rotate(-90)" font-size="5.4" font-weight="bold" fill="#1a1a1a" stroke="#1a1a1a" stroke-width="0.12">H179R</text>
<polyline fill="none" stroke="#303030" stroke-width="0.8" points="264.50,404.60 264.50,471.40"/>
<circle cx="264.50" cy="430.60" r="2.0" fill="#1ea2dc"/>
<text transform="translate(266.15,403.20) rotate(-90)" font-size="5.4" font-weight="bold" fill="#1a1a1a" stroke="#1a1a1a" stroke-width="0.12">C182*</text>
<polyline fill="none" stroke="#303030" stroke-width="0.8" points="271.50,404.60 271.50,433.60 279.50,439.80 279.50,471.40"/>
<circle cx="271.50" cy="430.60" r="2.0" fill="#d2232a"/>
<text transform="translate(273.45,403.20) rotate(-90)" font-size="5.4" font-weight="bold" fill="#1a1a1a" stroke="#1a1a1a" stroke-width="0.12">H193R</text>
<polyline fill="none" stroke="#303030" stroke-width="0.8" points="278.50,404.60 278.50,433.60 281.50,439.80 281.50,471.40"/>
<circle cx="278.50" cy="430.60" r="2.0" fill="#d2232a"/>
<text transform="translate(280.05,403.20) rotate(-90)" font-size="5.4" font-weight="bold" fill="#1a1a1a" stroke="#1a1a1a" stroke-width="0.12">L194R</text>
<polyline fill="none" stroke="#303030" stroke-width="0.8" points="285.50,404.60 285.50,471.40"/>
<circle cx="285.50" cy="430.60" r="2.0" fill="#d2232a"/>
<text transform="translate(286.55,403.20) rotate(-90)" font-size="5.4" font-weight="normal" fill="#1a1a1a" stroke="#1a1a1a" stroke-width="0.22">V197G</text>
<polyline fill="none" stroke="#303030" stroke-width="0.8" points="291.50,404.60 291.50,433.60 297.50,439.80 297.50,471.40"/>
<circle cx="291.50" cy="430.60" r="2.0" fill="#1ea2dc"/>
<text transform="translate(293.45,403.20) rotate(-90)" font-size="5.4" font-weight="normal" fill="#1a1a1a" stroke="#1a1a1a" stroke-width="0.22">Y205*</text>
<polyline fill="none" stroke="#303030" stroke-width="0.8" points="299.50,404.60 299.50,433.60 302.50,439.80 302.50,471.40"/>
<circle cx="299.50" cy="430.60" r="2.0" fill="#2b3b8e"/>
<text transform="translate(300.75,403.20) rotate(-90)" font-size="5.4" font-weight="bold" fill="#1a1a1a" stroke="#1a1a1a" stroke-width="0.12">R209fs</text>
<polyline fill="none" stroke="#303030" stroke-width="0.8" points="305.50,404.60 305.50,433.60 308.50,439.80 308.50,471.40"/>
<circle cx="305.50" cy="430.60" r="2.0" fill="#1ea2dc"/>
<text transform="translate(307.35,403.20) rotate(-90)" font-size="5.4" font-weight="bold" fill="#1a1a1a" stroke="#1a1a1a" stroke-width="0.12">R213*</text>
<polyline fill="none" stroke="#303030" stroke-width="0.8" points="313.50,404.60 313.50,433.60 310.50,439.80 310.50,471.40"/>
<circle cx="313.50" cy="430.60" r="2.0" fill="#d2232a"/>
<text transform="translate(315.35,403.20) rotate(-90)" font-size="5.4" font-weight="bold" fill="#1a1a1a" stroke="#1a1a1a" stroke-width="0.12">H214R</text>
<polyline fill="none" stroke="#303030" stroke-width="0.8" points="323.50,404.60 323.50,433.60 320.50,439.80 320.50,471.40"/>
<circle cx="323.50" cy="430.60" r="2.0" fill="#8cc63f"/>
<text transform="translate(325.15,403.20) rotate(-90)" font-size="5.4" font-weight="normal" fill="#1a1a1a" stroke="#1a1a1a" stroke-width="0.22">E221_splice</text>
<polyline fill="none" stroke="#303030" stroke-width="0.8" points="336.50,404.60 336.50,433.60 338.50,439.80 338.50,471.40"/>
<circle cx="336.50" cy="430.60" r="2.0" fill="#d2232a"/>
<text transform="translate(337.75,403.20) rotate(-90)" font-size="5.4" font-weight="bold" fill="#1a1a1a" stroke="#1a1a1a" stroke-width="0.12">Y234C</text>
<polyline fill="none" stroke="#303030" stroke-width="0.8" points="342.50,404.60 342.50,471.40"/>
<circle cx="342.50" cy="430.60" r="2.0" fill="#d2232a"/>
<text transform="translate(343.85,403.20) rotate(-90)" font-size="5.4" font-weight="normal" fill="#1a1a1a" stroke="#1a1a1a" stroke-width="0.22">M237K</text>
<polyline fill="none" stroke="#303030" stroke-width="0.8" points="348.50,404.60 348.50,433.60 344.50,439.80 344.50,471.40"/>
<circle cx="348.50" cy="430.60" r="2.0" fill="#d2232a"/>
<text transform="translate(350.35,403.20) rotate(-90)" font-size="5.4" font-weight="bold" fill="#1a1a1a" stroke="#1a1a1a" stroke-width="0.12">C238Y</text>
<polyline fill="none" stroke="#303030" stroke-width="0.8" points="356.50,404.60 356.50,433.60 348.50,439.80 348.50,471.40"/>
<circle cx="356.50" cy="430.60" r="2.0" fill="#d2232a"/>
<text transform="translate(358.05,403.20) rotate(-90)" font-size="5.4" font-weight="bold" fill="#1a1a1a" stroke="#1a1a1a" stroke-width="0.12">S241F</text>
<polyline fill="none" stroke="#303030" stroke-width="0.8" points="368.50,404.60 368.50,433.60 359.50,439.80 359.50,471.40"/>
<circle cx="368.50" cy="430.60" r="2.0" fill="#d2232a"/>
<text transform="translate(369.55,403.20) rotate(-90)" font-size="5.4" font-weight="bold" fill="#1a1a1a" stroke="#1a1a1a" stroke-width="0.12">R248P</text>
<polyline fill="none" stroke="#303030" stroke-width="0.8" points="379.50,404.60 379.50,433.60 359.50,439.80 359.50,471.40"/>
<circle cx="379.50" cy="430.60" r="2.0" fill="#d2232a"/>
<text transform="translate(381.15,403.20) rotate(-90)" font-size="5.4" font-weight="bold" fill="#1a1a1a" stroke="#1a1a1a" stroke-width="0.12">R248Q</text>
<polyline fill="none" stroke="#303030" stroke-width="0.8" points="395.50,404.60 395.50,433.60 384.50,439.80 384.50,471.40"/>
<circle cx="395.50" cy="430.60" r="2.0" fill="#d2232a"/>
<text transform="translate(396.55,403.20) rotate(-90)" font-size="5.4" font-weight="normal" fill="#1a1a1a" stroke="#1a1a1a" stroke-width="0.22">G266R</text>
<polyline fill="none" stroke="#303030" stroke-width="0.8" points="419.50,404.60 419.50,471.40"/>
<circle cx="419.50" cy="430.60" r="2.0" fill="#2b3b8e"/>
<text transform="translate(420.85,403.20) rotate(-90)" font-size="5.4" font-weight="normal" fill="#1a1a1a" stroke="#1a1a1a" stroke-width="0.22">R290fs</text>
<polyline fill="none" stroke="#303030" stroke-width="0.8" points="495.50,404.60 495.50,471.40"/>
<circle cx="495.50" cy="430.60" r="2.0" fill="#1ea2dc"/>
<text transform="translate(496.95,403.20) rotate(-90)" font-size="5.4" font-weight="bold" fill="#1a1a1a" stroke="#1a1a1a" stroke-width="0.12">E343*</text>
<rect x="2.50" y="446.80" width="497.38" height="24.60" fill="none" stroke="#3c3c3c" stroke-width="0.8" />
<text x="38.00" y="480.90" font-size="6.3" text-anchor="middle" font-weight="normal" font-style="normal" fill="#8c8c8c" stroke="#8c8c8c" stroke-width="0.2" >3</text>
<text x="52.00" y="480.90" font-size="6.3" text-anchor="middle" font-weight="normal" font-style="normal" fill="#8c8c8c" stroke="#8c8c8c" stroke-width="0.2" >4</text>
<text x="185.00" y="480.90" font-size="6.3" text-anchor="middle" font-weight="normal" font-style="normal" fill="#8c8c8c" stroke="#8c8c8c" stroke-width="0.2" >5</text>
<text x="272.30" y="480.90" font-size="6.3" text-anchor="middle" font-weight="normal" font-style="normal" fill="#8c8c8c" stroke="#8c8c8c" stroke-width="0.2" >6</text>
<text x="325.00" y="480.90" font-size="6.3" text-anchor="middle" font-weight="normal" font-style="normal" fill="#8c8c8c" stroke="#8c8c8c" stroke-width="0.2" >7</text>
<text x="381.50" y="480.90" font-size="6.3" text-anchor="middle" font-weight="normal" font-style="normal" fill="#8c8c8c" stroke="#8c8c8c" stroke-width="0.2" >8</text>
<text x="446.50" y="480.90" font-size="6.3" text-anchor="middle" font-weight="normal" font-style="normal" fill="#8c8c8c" stroke="#8c8c8c" stroke-width="0.2" >9</text>
<text x="483.50" y="480.90" font-size="6.3" text-anchor="middle" font-weight="normal" font-style="normal" fill="#8c8c8c" stroke="#8c8c8c" stroke-width="0.2" >10</text>
<line x1="2.50" y1="484.60" x2="499.88" y2="484.60" stroke="#b8b8b8" stroke-width="0.7" />
<line x1="2.50" y1="484.30" x2="2.50" y2="488.00" stroke="#b8b8b8" stroke-width="0.7" />
<line x1="31.25" y1="484.30" x2="31.25" y2="488.00" stroke="#b8b8b8" stroke-width="0.7" />
<line x1="60.00" y1="484.30" x2="60.00" y2="488.00" stroke="#b8b8b8" stroke-width="0.7" />
<line x1="88.75" y1="484.30" x2="88.75" y2="488.00" stroke="#b8b8b8" stroke-width="0.7" />
<line x1="117.50" y1="484.30" x2="117.50" y2="488.00" stroke="#b8b8b8" stroke-width="0.7" />
<line x1="146.25" y1="484.30" x2="146.25" y2="488.00" stroke="#b8b8b8" stroke-width="0.7" />
<line x1="175.00" y1="484.30" x2="175.00" y2="488.00" stroke="#b8b8b8" stroke-width="0.7" />
<line x1="203.75" y1="484.30" x2="203.75" y2="488.00" stroke="#b8b8b8" stroke-width="0.7" />
<line x1="232.50" y1="484.30" x2="232.50" y2="488.00" stroke="#b8b8b8" stroke-width="0.7" />
<line x1="261.25" y1="484.30" x2="261.25" y2="488.00" stroke="#b8b8b8" stroke-width="0.7" />
<line x1="290.00" y1="484.30" x2="290.00" y2="488.00" stroke="#b8b8b8" stroke-width="0.7" />
<line x1="318.75" y1="484.30" x2="318.75" y2="488.00" stroke="#b8b8b8" stroke-width="0.7" />
<line x1="347.50" y1="484.30" x2="347.50" y2="488.00" stroke="#b8b8b8" stroke-width="0.7" />
<line x1="376.25" y1="484.30" x2="376.25" y2="488.00" stroke="#b8b8b8" stroke-width="0.7" />
<line x1="405.00" y1="484.30" x2="405.00" y2="488.00" stroke="#b8b8b8" stroke-width="0.7" />
<line x1="433.75" y1="484.30" x2="433.75" y2="488.00" stroke="#b8b8b8" stroke-width="0.7" />
<line x1="462.50" y1="484.30" x2="462.50" y2="488.00" stroke="#b8b8b8" stroke-width="0.7" />
<line x1="491.25" y1="484.30" x2="491.25" y2="488.00" stroke="#b8b8b8" stroke-width="0.7" />
<line x1="499.88" y1="484.30" x2="499.88" y2="488.00" stroke="#b8b8b8" stroke-width="0.7" />
<line x1="38.00" y1="482.40" x2="38.00" y2="484.60" stroke="#c8c8c8" stroke-width="0.6" />
<line x1="52.00" y1="482.40" x2="52.00" y2="484.60" stroke="#c8c8c8" stroke-width="0.6" />
<line x1="185.00" y1="482.40" x2="185.00" y2="484.60" stroke="#c8c8c8" stroke-width="0.6" />
<line x1="272.00" y1="482.40" x2="272.00" y2="484.60" stroke="#c8c8c8" stroke-width="0.6" />
<line x1="325.00" y1="482.40" x2="325.00" y2="484.60" stroke="#c8c8c8" stroke-width="0.6" />
<line x1="381.00" y1="482.40" x2="381.00" y2="484.60" stroke="#c8c8c8" stroke-width="0.6" />
<line x1="446.00" y1="482.40" x2="446.00" y2="484.60" stroke="#c8c8c8" stroke-width="0.6" />
<line x1="483.00" y1="482.40" x2="483.00" y2="484.60" stroke="#c8c8c8" stroke-width="0.6" />
<text x="2.50" y="498.70" font-size="9.0" text-anchor="middle" font-weight="normal" font-style="normal" fill="#868686" stroke="#868686" stroke-width="0.2" >0</text>
<text x="31.25" y="498.70" font-size="9.0" text-anchor="middle" font-weight="normal" font-style="normal" fill="#868686" stroke="#868686" stroke-width="0.2" >20</text>
<text x="60.00" y="498.70" font-size="9.0" text-anchor="middle" font-weight="normal" font-style="normal" fill="#868686" stroke="#868686" stroke-width="0.2" >40</text>
<text x="88.75" y="498.70" font-size="9.0" text-anchor="middle" font-weight="normal" font-style="normal" fill="#868686" stroke="#868686" stroke-width="0.2" >60</text>
<text x="117.50" y="498.70" font-size="9.0" text-anchor="middle" font-weight="normal" font-style="normal" fill="#868686" stroke="#868686" stroke-width="0.2" >80</text>
<text x="146.25" y="498.70" font-size="9.0" text-anchor="middle" font-weight="normal" font-style="normal" fill="#868686" stroke="#868686" stroke-width="0.2" >100</text>
<text x="175.00" y="498.70" font-size="9.0" text-anchor="middle" font-weight="normal" font-style="normal" fill="#868686" stroke="#868686" stroke-width="0.2" >120</text>
<text x="203.75" y="498.70" font-size="9.0" text-anchor="middle" font-weight="normal" font-style="normal" fill="#868686" stroke="#868686" stroke-width="0.2" >140</text>
<text x="232.50" y="498.70" font-size="9.0" text-anchor="middle" font-weight="normal" font-style="normal" fill="#868686" stroke="#868686" stroke-width="0.2" >160</text>
<text x="261.25" y="498.70" font-size="9.0" text-anchor="middle" font-weight="normal" font-style="normal" fill="#868686" stroke="#868686" stroke-width="0.2" >180</text>
<text x="290.00" y="498.70" font-size="9.0" text-anchor="middle" font-weight="normal" font-style="normal" fill="#868686" stroke="#868686" stroke-width="0.2" >200</text>
<text x="318.75" y="498.70" font-size="9.0" text-anchor="middle" font-weight="normal" font-style="normal" fill="#868686" stroke="#868686" stroke-width="0.2" >220</text>
<text x="347.50" y="498.70" font-size="9.0" text-anchor="middle" font-weight="normal" font-style="normal" fill="#868686" stroke="#868686" stroke-width="0.2" >240</text>
<text x="376.25" y="498.70" font-size="9.0" text-anchor="middle" font-weight="normal" font-style="normal" fill="#868686" stroke="#868686" stroke-width="0.2" >260</text>
<text x="405.00" y="498.70" font-size="9.0" text-anchor="middle" font-weight="normal" font-style="normal" fill="#868686" stroke="#868686" stroke-width="0.2" >280</text>
<text x="433.75" y="498.70" font-size="9.0" text-anchor="middle" font-weight="normal" font-style="normal" fill="#868686" stroke="#868686" stroke-width="0.2" >300</text>
<text x="462.50" y="498.70" font-size="9.0" text-anchor="middle" font-weight="normal" font-style="normal" fill="#868686" stroke="#868686" stroke-width="0.2" >320</text>
<text x="495.00" y="498.70" font-size="9.0" text-anchor="middle" font-weight="normal" font-style="normal" fill="#868686" stroke="#868686" stroke-width="0.2" >346</text>
<text x="2.80" y="524.00" font-size="11.9" text-anchor="start" font-weight="bold" font-style="normal" fill="#111" stroke="#111" stroke-width="0.2" >TP53</text>
<text x="2.90" y="533.10" font-size="6.7" text-anchor="start" font-weight="normal" font-style="normal" fill="#222" stroke="#222" stroke-width="0.2" >NM_001126113</text>
<rect x="75.00" y="512.30" width="4.60" height="4.60" fill="#8c3092" stroke="none" stroke-width="0" />
<text x="84.30" y="517.00" font-size="7.1" text-anchor="start" font-weight="normal" font-style="normal" fill="#222" stroke="#222" stroke-width="0.2" >TAD</text>
<rect x="75.00" y="524.50" width="4.60" height="4.60" fill="#706db9" stroke="none" stroke-width="0" />
<text x="84.30" y="529.20" font-size="7.1" text-anchor="start" font-weight="normal" font-style="normal" fill="#222" stroke="#222" stroke-width="0.2" >DNA binding</text>
<circle cx="419.00" cy="508.90" r="1.9" fill="#8cc63f"/>
<text x="425.40" y="511.65" font-size="8.2" text-anchor="start" font-weight="normal" font-style="normal" fill="#222" stroke="#222" stroke-width="0.2" >Splicing</text>
<circle cx="469.00" cy="508.90" r="1.9" fill="#2b3b8e"/>
<text x="475.40" y="511.65" font-size="8.2" text-anchor="start" font-weight="normal" font-style="normal" fill="#222" stroke="#222" stroke-width="0.2" >Frameshift</text>
<circle cx="469.00" cy="521.60" r="1.9" fill="#d2232a"/>
<text x="475.40" y="524.35" font-size="8.2" text-anchor="start" font-weight="normal" font-style="normal" fill="#222" stroke="#222" stroke-width="0.2" >Missense</text>
<circle cx="469.00" cy="533.80" r="1.9" fill="#1ea2dc"/>
<text x="475.40" y="536.55" font-size="8.2" text-anchor="start" font-weight="normal" font-style="normal" fill="#222" stroke="#222" stroke-width="0.2" >Nonsense</text>
<rect x="4.20" y="610.00" width="487.28" height="24.30" fill="#ffffff" stroke="none" stroke-width="0" />
<rect x="39.70" y="610.00" width="243.74" height="24.30" fill="#9a3a9c" stroke="#000" stroke-width="0.7" stroke-opacity="0.28"/>
<rect x="291.91" y="610.00" width="19.13" height="24.30" fill="#746fba" stroke="#000" stroke-width="0.7" stroke-opacity="0.28"/>
<rect x="365.86" y="610.00" width="41.02" height="24.30" fill="#3f2c82" stroke="#000" stroke-width="0.7" stroke-opacity="0.28"/>
<rect x="450.66" y="610.00" width="19.92" height="24.30" fill="#1f3f7a" stroke="#000" stroke-width="0.7" stroke-opacity="0.28"/>
<rect x="470.58" y="610.00" width="9.86" height="24.30" fill="#17827d" stroke="#000" stroke-width="0.7" stroke-opacity="0.28"/>
<polyline fill="none" stroke="#d6cfcf" stroke-width="0.8" points="331.50,567.20 331.50,634.30"/>
<circle cx="331.50" cy="594.30" r="2.0" fill="#d2232a"/>
<text transform="translate(332.55,565.30) rotate(-90)" font-size="5.4" font-weight="normal" fill="#808080" stroke="#808080" stroke-width="0.22">Q1665R</text>
<polyline fill="none" stroke="#303030" stroke-width="0.8" points="412.50,567.20 412.50,634.30"/>
<circle cx="412.50" cy="594.30" r="2.0" fill="#2b3b8e"/>
<text transform="translate(413.55,565.30) rotate(-90)" font-size="5.4" font-weight="normal" fill="#1a1a1a" stroke="#1a1a1a" stroke-width="0.22">F2060fs</text>
<polyline fill="none" stroke="#303030" stroke-width="0.8" points="420.50,567.20 420.50,597.30 422.50,605.70 422.50,634.30"/>
<circle cx="420.50" cy="594.30" r="2.0" fill="#1ea2dc"/>
<text transform="translate(422.30,565.30) rotate(-90)" font-size="5.4" font-weight="normal" fill="#1a1a1a" stroke="#1a1a1a" stroke-width="0.22">K2133*</text>
<polyline fill="none" stroke="#303030" stroke-width="0.8" points="428.50,567.20 428.50,597.30 425.50,605.70 425.50,634.30"/>
<circle cx="428.50" cy="594.30" r="2.0" fill="#2b3b8e"/>
<text transform="translate(430.30,565.30) rotate(-90)" font-size="5.4" font-weight="normal" fill="#1a1a1a" stroke="#1a1a1a" stroke-width="0.22">I2145fs</text>
<polyline fill="none" stroke="#303030" stroke-width="0.8" points="433.50,567.20 433.50,597.30 451.50,605.70 451.50,634.30"/>
<circle cx="433.50" cy="594.30" r="2.0" fill="#2b3b8e"/>
<text transform="translate(435.30,565.30) rotate(-90)" font-size="5.4" font-weight="normal" fill="#1a1a1a" stroke="#1a1a1a" stroke-width="0.22">M2267fs</text>
<polyline fill="none" stroke="#303030" stroke-width="0.8" points="438.50,567.20 438.50,597.30 452.50,605.70 452.50,634.30"/>
<circle cx="438.50" cy="594.30" r="2.0" fill="#2b3b8e"/>
<text transform="translate(440.30,565.30) rotate(-90)" font-size="5.4" font-weight="normal" fill="#1a1a1a" stroke="#1a1a1a" stroke-width="0.22">A2275fs</text>
<polyline fill="none" stroke="#303030" stroke-width="0.8" points="444.50,567.20 444.50,597.30 454.50,605.70 454.50,634.30"/>
<circle cx="444.50" cy="594.30" r="2.0" fill="#2b3b8e"/>
<text transform="translate(445.80,565.30) rotate(-90)" font-size="5.4" font-weight="normal" fill="#1a1a1a" stroke="#1a1a1a" stroke-width="0.22">G2281fs</text>
<polyline fill="none" stroke="#303030" stroke-width="0.8" points="450.50,567.20 450.50,597.30 456.50,605.70 456.50,634.30"/>
<circle cx="450.50" cy="594.30" r="2.0" fill="#2b3b8e"/>
<text transform="translate(451.55,565.30) rotate(-90)" font-size="5.4" font-weight="normal" fill="#1a1a1a" stroke="#1a1a1a" stroke-width="0.22">E2290fs</text>
<polyline fill="none" stroke="#303030" stroke-width="0.8" points="456.50,567.20 456.50,634.30"/>
<circle cx="456.50" cy="594.30" r="2.0" fill="#1ea2dc"/>
<text transform="translate(457.80,565.30) rotate(-90)" font-size="5.4" font-weight="normal" fill="#1a1a1a" stroke="#1a1a1a" stroke-width="0.22">K2292*</text>
<polyline fill="none" stroke="#303030" stroke-width="0.8" points="463.50,567.20 463.50,597.30 461.50,605.70 461.50,634.30"/>
<circle cx="463.50" cy="594.30" r="2.0" fill="#2b3b8e"/>
<text transform="translate(465.30,565.30) rotate(-90)" font-size="5.4" font-weight="normal" fill="#1a1a1a" stroke="#1a1a1a" stroke-width="0.22">L2303fs</text>
<polyline fill="none" stroke="#303030" stroke-width="0.8" points="470.50,567.20 470.50,634.30"/>
<circle cx="470.50" cy="594.30" r="2.0" fill="#1ea2dc"/>
<circle cx="470.50" cy="589.50" r="2.0" fill="#1ea2dc"/>
<text transform="translate(472.05,565.30) rotate(-90)" font-size="5.4" font-weight="normal" fill="#1a1a1a" stroke="#1a1a1a" stroke-width="0.22">Q2325*</text>
<polyline fill="none" stroke="#303030" stroke-width="0.8" points="480.50,567.20 480.50,597.30 470.50,605.70 470.50,634.30"/>
<circle cx="480.50" cy="594.30" r="2.0" fill="#1ea2dc"/>
<text transform="translate(482.05,565.30) rotate(-90)" font-size="5.4" font-weight="bold" fill="#1a1a1a" stroke="#1a1a1a" stroke-width="0.12">Q2361*</text>
<polyline fill="none" stroke="#303030" stroke-width="0.8" points="490.50,567.20 490.50,597.30 471.50,605.70 471.50,634.30"/>
<circle cx="490.50" cy="594.30" r="2.0" fill="#1ea2dc"/>
<text transform="translate(491.55,565.30) rotate(-90)" font-size="5.4" font-weight="bold" fill="#1a1a1a" stroke="#1a1a1a" stroke-width="0.12">Q2385*</text>
<polyline fill="none" stroke="#303030" stroke-width="0.8" points="496.50,567.20 496.50,597.30 473.50,605.70 473.50,634.30"/>
<circle cx="496.50" cy="594.30" r="2.0" fill="#1ea2dc"/>
<text transform="translate(498.30,565.30) rotate(-90)" font-size="5.4" font-weight="normal" fill="#1a1a1a" stroke="#1a1a1a" stroke-width="0.22">Q2389*</text>
<polyline fill="none" stroke="#303030" stroke-width="0.8" points="503.50,567.20 503.50,597.30 476.50,605.70 476.50,634.30"/>
<circle cx="503.50" cy="594.30" r="2.0" fill="#d2232a"/>
<text transform="translate(504.55,565.30) rotate(-90)" font-size="5.4" font-weight="normal" fill="#1a1a1a" stroke="#1a1a1a" stroke-width="0.22">P2377S</text>
<polyline fill="none" stroke="#303030" stroke-width="0.8" points="510.50,567.20 510.50,597.30 478.50,605.70 478.50,634.30"/>
<circle cx="510.50" cy="594.30" r="2.0" fill="#1ea2dc"/>
<text transform="translate(511.55,565.30) rotate(-90)" font-size="5.4" font-weight="bold" fill="#1a1a1a" stroke="#1a1a1a" stroke-width="0.12">R2400*</text>
<polyline fill="none" stroke="#303030" stroke-width="0.8" points="516.50,567.20 516.50,597.30 481.50,605.70 481.50,634.30"/>
<circle cx="516.50" cy="594.30" r="2.0" fill="#1ea2dc"/>
<text transform="translate(517.80,565.30) rotate(-90)" font-size="5.4" font-weight="normal" fill="#1a1a1a" stroke="#1a1a1a" stroke-width="0.22">E2426*</text>
<rect x="4.20" y="610.00" width="487.28" height="24.30" fill="none" stroke="#3c3c3c" stroke-width="0.8" />
<text x="10.00" y="643.30" font-size="6.3" text-anchor="middle" font-weight="normal" font-style="normal" fill="#8c8c8c" stroke="#8c8c8c" stroke-width="0.2" >2</text>
<text x="32.00" y="643.30" font-size="6.3" text-anchor="middle" font-weight="normal" font-style="normal" fill="#8c8c8c" stroke="#8c8c8c" stroke-width="0.2" >4</text>
<text x="62.00" y="643.30" font-size="6.3" text-anchor="middle" font-weight="normal" font-style="normal" fill="#8c8c8c" stroke="#8c8c8c" stroke-width="0.2" >6</text>
<text x="88.00" y="643.30" font-size="6.3" text-anchor="middle" font-weight="normal" font-style="normal" fill="#8c8c8c" stroke="#8c8c8c" stroke-width="0.2" >8</text>
<text x="106.00" y="643.30" font-size="6.3" text-anchor="middle" font-weight="normal" font-style="normal" fill="#8c8c8c" stroke="#8c8c8c" stroke-width="0.2" >10</text>
<text x="131.00" y="643.30" font-size="6.3" text-anchor="middle" font-weight="normal" font-style="normal" fill="#8c8c8c" stroke="#8c8c8c" stroke-width="0.2" >12</text>
<text x="153.00" y="643.30" font-size="6.3" text-anchor="middle" font-weight="normal" font-style="normal" fill="#8c8c8c" stroke="#8c8c8c" stroke-width="0.2" >14</text>
<text x="168.00" y="643.30" font-size="6.3" text-anchor="middle" font-weight="normal" font-style="normal" fill="#8c8c8c" stroke="#8c8c8c" stroke-width="0.2" >16</text>
<text x="185.00" y="643.30" font-size="6.3" text-anchor="middle" font-weight="normal" font-style="normal" fill="#8c8c8c" stroke="#8c8c8c" stroke-width="0.2" >18</text>
<text x="214.00" y="643.30" font-size="6.3" text-anchor="middle" font-weight="normal" font-style="normal" fill="#8c8c8c" stroke="#8c8c8c" stroke-width="0.2" >20</text>
<text x="235.00" y="643.30" font-size="6.3" text-anchor="middle" font-weight="normal" font-style="normal" fill="#8c8c8c" stroke="#8c8c8c" stroke-width="0.2" >22</text>
<text x="259.00" y="643.30" font-size="6.3" text-anchor="middle" font-weight="normal" font-style="normal" fill="#8c8c8c" stroke="#8c8c8c" stroke-width="0.2" >24</text>
<text x="300.00" y="643.30" font-size="6.3" text-anchor="middle" font-weight="normal" font-style="normal" fill="#8c8c8c" stroke="#8c8c8c" stroke-width="0.2" >26</text>
<text x="331.50" y="643.30" font-size="6.3" text-anchor="middle" font-weight="normal" font-style="normal" fill="#8c8c8c" stroke="#8c8c8c" stroke-width="0.2" >28</text>
<text x="352.50" y="643.30" font-size="6.3" text-anchor="middle" font-weight="normal" font-style="normal" fill="#8c8c8c" stroke="#8c8c8c" stroke-width="0.2" >30</text>
<text x="382.50" y="643.30" font-size="6.3" text-anchor="middle" font-weight="normal" font-style="normal" fill="#8c8c8c" stroke="#8c8c8c" stroke-width="0.2" >32</text>
<text x="400.00" y="643.30" font-size="6.3" text-anchor="middle" font-weight="normal" font-style="normal" fill="#8c8c8c" stroke="#8c8c8c" stroke-width="0.2" >34</text>
<line x1="4.20" y1="647.40" x2="491.48" y2="647.40" stroke="#b8b8b8" stroke-width="0.7" />
<line x1="4.20" y1="647.10" x2="4.20" y2="650.00" stroke="#b8b8b8" stroke-width="0.7" />
<line x1="43.64" y1="647.10" x2="43.64" y2="650.00" stroke="#b8b8b8" stroke-width="0.7" />
<line x1="83.08" y1="647.10" x2="83.08" y2="650.00" stroke="#b8b8b8" stroke-width="0.7" />
<line x1="122.52" y1="647.10" x2="122.52" y2="650.00" stroke="#b8b8b8" stroke-width="0.7" />
<line x1="161.96" y1="647.10" x2="161.96" y2="650.00" stroke="#b8b8b8" stroke-width="0.7" />
<line x1="201.40" y1="647.10" x2="201.40" y2="650.00" stroke="#b8b8b8" stroke-width="0.7" />
<line x1="240.84" y1="647.10" x2="240.84" y2="650.00" stroke="#b8b8b8" stroke-width="0.7" />
<line x1="280.28" y1="647.10" x2="280.28" y2="650.00" stroke="#b8b8b8" stroke-width="0.7" />
<line x1="319.72" y1="647.10" x2="319.72" y2="650.00" stroke="#b8b8b8" stroke-width="0.7" />
<line x1="359.16" y1="647.10" x2="359.16" y2="650.00" stroke="#b8b8b8" stroke-width="0.7" />
<line x1="398.60" y1="647.10" x2="398.60" y2="650.00" stroke="#b8b8b8" stroke-width="0.7" />
<line x1="438.04" y1="647.10" x2="438.04" y2="650.00" stroke="#b8b8b8" stroke-width="0.7" />
<line x1="477.48" y1="647.10" x2="477.48" y2="650.00" stroke="#b8b8b8" stroke-width="0.7" />
<line x1="491.48" y1="647.10" x2="491.48" y2="650.00" stroke="#b8b8b8" stroke-width="0.7" />
<line x1="10.00" y1="645.20" x2="10.00" y2="647.40" stroke="#c8c8c8" stroke-width="0.6" />
<line x1="20.00" y1="645.20" x2="20.00" y2="647.40" stroke="#c8c8c8" stroke-width="0.6" />
<line x1="32.00" y1="645.20" x2="32.00" y2="647.40" stroke="#c8c8c8" stroke-width="0.6" />
<line x1="45.00" y1="645.20" x2="45.00" y2="647.40" stroke="#c8c8c8" stroke-width="0.6" />
<line x1="62.00" y1="645.20" x2="62.00" y2="647.40" stroke="#c8c8c8" stroke-width="0.6" />
<line x1="75.00" y1="645.20" x2="75.00" y2="647.40" stroke="#c8c8c8" stroke-width="0.6" />
<line x1="88.00" y1="645.20" x2="88.00" y2="647.40" stroke="#c8c8c8" stroke-width="0.6" />
<line x1="97.00" y1="645.20" x2="97.00" y2="647.40" stroke="#c8c8c8" stroke-width="0.6" />
<line x1="106.00" y1="645.20" x2="106.00" y2="647.40" stroke="#c8c8c8" stroke-width="0.6" />
<line x1="118.00" y1="645.20" x2="118.00" y2="647.40" stroke="#c8c8c8" stroke-width="0.6" />
<line x1="131.00" y1="645.20" x2="131.00" y2="647.40" stroke="#c8c8c8" stroke-width="0.6" />
<line x1="142.00" y1="645.20" x2="142.00" y2="647.40" stroke="#c8c8c8" stroke-width="0.6" />
<line x1="153.00" y1="645.20" x2="153.00" y2="647.40" stroke="#c8c8c8" stroke-width="0.6" />
<line x1="160.00" y1="645.20" x2="160.00" y2="647.40" stroke="#c8c8c8" stroke-width="0.6" />
<line x1="168.00" y1="645.20" x2="168.00" y2="647.40" stroke="#c8c8c8" stroke-width="0.6" />
<line x1="176.00" y1="645.20" x2="176.00" y2="647.40" stroke="#c8c8c8" stroke-width="0.6" />
<line x1="185.00" y1="645.20" x2="185.00" y2="647.40" stroke="#c8c8c8" stroke-width="0.6" />
<line x1="200.00" y1="645.20" x2="200.00" y2="647.40" stroke="#c8c8c8" stroke-width="0.6" />
<line x1="214.00" y1="645.20" x2="214.00" y2="647.40" stroke="#c8c8c8" stroke-width="0.6" />
<line x1="225.00" y1="645.20" x2="225.00" y2="647.40" stroke="#c8c8c8" stroke-width="0.6" />
<line x1="235.00" y1="645.20" x2="235.00" y2="647.40" stroke="#c8c8c8" stroke-width="0.6" />
<line x1="247.00" y1="645.20" x2="247.00" y2="647.40" stroke="#c8c8c8" stroke-width="0.6" />
<line x1="259.00" y1="645.20" x2="259.00" y2="647.40" stroke="#c8c8c8" stroke-width="0.6" />
<line x1="280.00" y1="645.20" x2="280.00" y2="647.40" stroke="#c8c8c8" stroke-width="0.6" />
<line x1="300.00" y1="645.20" x2="300.00" y2="647.40" stroke="#c8c8c8" stroke-width="0.6" />
<line x1="316.00" y1="645.20" x2="316.00" y2="647.40" stroke="#c8c8c8" stroke-width="0.6" />
<line x1="331.00" y1="645.20" x2="331.00" y2="647.40" stroke="#c8c8c8" stroke-width="0.6" />
<line x1="342.00" y1="645.20" x2="342.00" y2="647.40" stroke="#c8c8c8" stroke-width="0.6" />
<line x1="352.00" y1="645.20" x2="352.00" y2="647.40" stroke="#c8c8c8" stroke-width="0.6" />
<line x1="368.00" y1="645.20" x2="368.00" y2="647.40" stroke="#c8c8c8" stroke-width="0.6" />
<line x1="382.00" y1="645.20" x2="382.00" y2="647.40" stroke="#c8c8c8" stroke-width="0.6" />
<line x1="392.00" y1="645.20" x2="392.00" y2="647.40" stroke="#c8c8c8" stroke-width="0.6" />
<line x1="400.00" y1="645.20" x2="400.00" y2="647.40" stroke="#c8c8c8" stroke-width="0.6" />
<text x="4.20" y="661.20" font-size="9.2" text-anchor="middle" font-weight="normal" font-style="normal" fill="#868686" stroke="#868686" stroke-width="0.2" >0</text>
<text x="43.64" y="661.20" font-size="9.2" text-anchor="middle" font-weight="normal" font-style="normal" fill="#868686" stroke="#868686" stroke-width="0.2" >200</text>
<text x="83.08" y="661.20" font-size="9.2" text-anchor="middle" font-weight="normal" font-style="normal" fill="#868686" stroke="#868686" stroke-width="0.2" >400</text>
<text x="122.52" y="661.20" font-size="9.2" text-anchor="middle" font-weight="normal" font-style="normal" fill="#868686" stroke="#868686" stroke-width="0.2" >600</text>
<text x="161.96" y="661.20" font-size="9.2" text-anchor="middle" font-weight="normal" font-style="normal" fill="#868686" stroke="#868686" stroke-width="0.2" >800</text>
<text x="201.40" y="661.20" font-size="9.2" text-anchor="middle" font-weight="normal" font-style="normal" fill="#868686" stroke="#868686" stroke-width="0.2" >1,000</text>
<text x="240.84" y="661.20" font-size="9.2" text-anchor="middle" font-weight="normal" font-style="normal" fill="#868686" stroke="#868686" stroke-width="0.2" >1,200</text>
<text x="280.28" y="661.20" font-size="9.2" text-anchor="middle" font-weight="normal" font-style="normal" fill="#868686" stroke="#868686" stroke-width="0.2" >1,400</text>
<text x="319.72" y="661.20" font-size="9.2" text-anchor="middle" font-weight="normal" font-style="normal" fill="#868686" stroke="#868686" stroke-width="0.2" >1,600</text>
<text x="359.16" y="661.20" font-size="9.2" text-anchor="middle" font-weight="normal" font-style="normal" fill="#868686" stroke="#868686" stroke-width="0.2" >1,800</text>
<text x="398.60" y="661.20" font-size="9.2" text-anchor="middle" font-weight="normal" font-style="normal" fill="#868686" stroke="#868686" stroke-width="0.2" >2,000</text>
<text x="438.04" y="661.20" font-size="9.2" text-anchor="middle" font-weight="normal" font-style="normal" fill="#868686" stroke="#868686" stroke-width="0.2" >2,200</text>
<text x="488.50" y="661.20" font-size="9.2" text-anchor="middle" font-weight="normal" font-style="normal" fill="#868686" stroke="#868686" stroke-width="0.2" >2,471</text>
<text x="4.50" y="685.50" font-size="12.2" text-anchor="start" font-weight="bold" font-style="normal" fill="#111" stroke="#111" stroke-width="0.2" >NOTCH2</text>
<text x="4.60" y="694.70" font-size="6.7" text-anchor="start" font-weight="normal" font-style="normal" fill="#222" stroke="#222" stroke-width="0.2" >NM_024408</text>
<rect x="74.00" y="676.50" width="4.60" height="4.60" fill="#9a3a9c" stroke="none" stroke-width="0" />
<text x="83.30" y="681.20" font-size="7.3" text-anchor="start" font-weight="normal" font-style="normal" fill="#222" stroke="#222" stroke-width="0.2" >EGF repeats</text>
<rect x="74.00" y="689.00" width="4.60" height="4.60" fill="#746fba" stroke="none" stroke-width="0" />
<text x="83.30" y="693.70" font-size="7.3" text-anchor="start" font-weight="normal" font-style="normal" fill="#222" stroke="#222" stroke-width="0.2" >LNR repeats</text>
<rect x="74.00" y="701.10" width="4.60" height="4.60" fill="#3f2c82" stroke="none" stroke-width="0" />
<text x="83.30" y="705.80" font-size="7.3" text-anchor="start" font-weight="normal" font-style="normal" fill="#222" stroke="#222" stroke-width="0.2" >ANK repeats</text>
<rect x="143.00" y="676.50" width="4.60" height="4.60" fill="#1f3f7a" stroke="none" stroke-width="0" />
<text x="152.30" y="681.20" font-size="7.3" text-anchor="start" font-weight="normal" font-style="normal" fill="#222" stroke="#222" stroke-width="0.2" >TAD</text>
<rect x="143.00" y="689.00" width="4.60" height="4.60" fill="#17827d" stroke="none" stroke-width="0" />
<text x="152.30" y="693.70" font-size="7.3" text-anchor="start" font-weight="normal" font-style="normal" fill="#222" stroke="#222" stroke-width="0.2" >PEST</text>
<circle cx="461.40" cy="671.20" r="1.9" fill="#2b3b8e"/>
<text x="467.60" y="673.95" font-size="7.9" text-anchor="start" font-weight="normal" font-style="normal" fill="#222" stroke="#222" stroke-width="0.2" >Frameshift</text>
<circle cx="461.40" cy="683.40" r="1.9" fill="#d2232a"/>
<text x="467.60" y="686.15" font-size="7.9" text-anchor="start" font-weight="normal" font-style="normal" fill="#222" stroke="#222" stroke-width="0.2" >Missense</text>
<circle cx="461.40" cy="695.60" r="1.9" fill="#1ea2dc"/>
<text x="467.60" y="698.35" font-size="7.9" text-anchor="start" font-weight="normal" font-style="normal" fill="#222" stroke="#222" stroke-width="0.2" >Nonsense</text>
<rect x="22.70" y="796.20" width="464.55" height="22.60" fill="#ffffff" stroke="none" stroke-width="0" />
<rect x="35.28" y="796.20" width="6.29" height="22.60" fill="#8c3092" stroke="#000" stroke-width="0.7" stroke-opacity="0.28"/>
<rect x="62.30" y="796.20" width="9.90" height="22.60" fill="#3a2b86" stroke="#000" stroke-width="0.7" stroke-opacity="0.28"/>
<rect x="143.26" y="796.20" width="10.82" height="22.60" fill="#8c3092" stroke="#000" stroke-width="0.7" stroke-opacity="0.28"/>
<rect x="451.26" y="796.20" width="2.68" height="22.60" fill="#8c3092" stroke="#000" stroke-width="0.7" stroke-opacity="0.28"/>
<rect x="475.59" y="796.20" width="11.66" height="22.60" fill="#2b2a80" stroke="#000" stroke-width="0.7" stroke-opacity="0.28"/>
<polyline fill="none" stroke="#303030" stroke-width="0.8" points="38.50,755.80 38.50,818.80"/>
<circle cx="38.50" cy="780.90" r="1.75" fill="#2b3b8e"/>
<text transform="translate(40.05,745.80) rotate(-90)" font-size="5.4" font-weight="normal" fill="#1a1a1a" stroke="#1a1a1a" stroke-width="0.22">F191fs</text>
<polyline fill="none" stroke="#303030" stroke-width="0.8" points="52.50,755.80 52.50,818.80"/>
<circle cx="52.50" cy="780.90" r="1.75" fill="#1ea2dc"/>
<text transform="translate(54.05,745.80) rotate(-90)" font-size="5.4" font-weight="normal" fill="#1a1a1a" stroke="#1a1a1a" stroke-width="0.22">Q356*</text>
<polyline fill="none" stroke="#303030" stroke-width="0.8" points="65.50,755.80 65.50,818.80"/>
<circle cx="65.50" cy="780.90" r="1.75" fill="#d2232a"/>
<text transform="translate(66.55,745.80) rotate(-90)" font-size="5.4" font-weight="normal" fill="#1a1a1a" stroke="#1a1a1a" stroke-width="0.22">P506Q</text>
<polyline fill="none" stroke="#303030" stroke-width="0.8" points="104.50,755.80 104.50,783.90 109.50,792.60 109.50,818.80"/>
<circle cx="104.50" cy="780.90" r="1.75" fill="#1ea2dc"/>
<text transform="translate(106.05,745.80) rotate(-90)" font-size="5.4" font-weight="normal" fill="#1a1a1a" stroke="#1a1a1a" stroke-width="0.22">G1023*</text>
<polyline fill="none" stroke="#303030" stroke-width="0.8" points="114.50,755.80 114.50,783.90 111.50,792.60 111.50,818.80"/>
<circle cx="114.50" cy="780.90" r="1.75" fill="#d2232a"/>
<text transform="translate(115.75,745.80) rotate(-90)" font-size="5.4" font-weight="normal" fill="#1a1a1a" stroke="#1a1a1a" stroke-width="0.22">S1060F</text>
<polyline fill="none" stroke="#303030" stroke-width="0.8" points="136.50,755.80 136.50,783.90 145.50,792.60 145.50,818.80"/>
<circle cx="136.50" cy="780.90" r="1.75" fill="#2b3b8e"/>
<text transform="translate(138.25,745.80) rotate(-90)" font-size="5.4" font-weight="normal" fill="#1a1a1a" stroke="#1a1a1a" stroke-width="0.22">Y1416fs</text>
<polyline fill="none" stroke="#303030" stroke-width="0.8" points="146.50,755.80 146.50,818.80"/>
<circle cx="146.50" cy="780.90" r="1.75" fill="#1ea2dc"/>
<text transform="translate(147.65,745.80) rotate(-90)" font-size="5.4" font-weight="normal" fill="#1a1a1a" stroke="#1a1a1a" stroke-width="0.22">W1529*</text>
<polyline fill="none" stroke="#303030" stroke-width="0.8" points="155.50,755.80 155.50,783.90 152.50,792.60 152.50,818.80"/>
<circle cx="155.50" cy="780.90" r="1.75" fill="#1ea2dc"/>
<text transform="translate(156.55,745.80) rotate(-90)" font-size="5.4" font-weight="normal" fill="#1a1a1a" stroke="#1a1a1a" stroke-width="0.22">Q1545*</text>
<polyline fill="none" stroke="#303030" stroke-width="0.8" points="164.50,755.80 164.50,818.80"/>
<circle cx="164.50" cy="780.90" r="1.75" fill="#1ea2dc"/>
<text transform="translate(165.95,745.80) rotate(-90)" font-size="5.4" font-weight="normal" fill="#1a1a1a" stroke="#1a1a1a" stroke-width="0.22">Y1692*</text>
<polyline fill="none" stroke="#303030" stroke-width="0.8" points="191.50,755.80 191.50,783.90 197.50,792.60 197.50,818.80"/>
<circle cx="191.50" cy="780.90" r="1.75" fill="#d2232a"/>
<text transform="translate(192.95,745.80) rotate(-90)" font-size="5.4" font-weight="normal" fill="#1a1a1a" stroke="#1a1a1a" stroke-width="0.22">N2061fs</text>
<polyline fill="none" stroke="#303030" stroke-width="0.8" points="202.50,755.80 202.50,818.80"/>
<circle cx="202.50" cy="780.90" r="1.75" fill="#d2232a"/>
<text transform="translate(204.25,745.80) rotate(-90)" font-size="5.4" font-weight="normal" fill="#1a1a1a" stroke="#1a1a1a" stroke-width="0.22">A2147V</text>
<polyline fill="none" stroke="#303030" stroke-width="0.8" points="210.50,755.80 210.50,783.90 203.50,792.60 203.50,818.80"/>
<circle cx="210.50" cy="780.90" r="1.75" fill="#d2232a"/>
<text transform="translate(211.75,745.80) rotate(-90)" font-size="5.4" font-weight="normal" fill="#1a1a1a" stroke="#1a1a1a" stroke-width="0.22">Q2170E</text>
<polyline fill="none" stroke="#303030" stroke-width="0.8" points="242.50,755.80 242.50,818.80"/>
<circle cx="242.50" cy="780.90" r="1.75" fill="#2b3b8e"/>
<text transform="translate(244.15,745.80) rotate(-90)" font-size="5.4" font-weight="normal" fill="#1a1a1a" stroke="#1a1a1a" stroke-width="0.22">S2629fs</text>
<polyline fill="none" stroke="#303030" stroke-width="0.8" points="266.50,755.80 266.50,818.80"/>
<circle cx="266.50" cy="780.90" r="1.75" fill="#2b3b8e"/>
<text transform="translate(268.15,745.80) rotate(-90)" font-size="5.4" font-weight="bold" fill="#1a1a1a" stroke="#1a1a1a" stroke-width="0.12">V2909fs</text>
<polyline fill="none" stroke="#303030" stroke-width="0.8" points="276.50,755.80 276.50,818.80"/>
<circle cx="276.50" cy="780.90" r="1.75" fill="#2b3b8e"/>
<text transform="translate(277.55,745.80) rotate(-90)" font-size="5.4" font-weight="normal" fill="#1a1a1a" stroke="#1a1a1a" stroke-width="0.22">F3024fs</text>
<polyline fill="none" stroke="#303030" stroke-width="0.8" points="315.50,755.80 315.50,818.80"/>
<circle cx="315.50" cy="780.90" r="1.75" fill="#d2232a"/>
<text transform="translate(316.55,745.80) rotate(-90)" font-size="5.4" font-weight="normal" fill="#1a1a1a" stroke="#1a1a1a" stroke-width="0.22">S3491C</text>
<polyline fill="none" stroke="#303030" stroke-width="0.8" points="398.50,755.80 398.50,783.90 404.50,792.60 404.50,818.80"/>
<circle cx="398.50" cy="780.90" r="1.75" fill="#8cc63f"/>
<text transform="translate(399.55,745.80) rotate(-90)" font-size="5.4" font-weight="normal" fill="#1a1a1a" stroke="#1a1a1a" stroke-width="0.22">4557_splice</text>
<polyline fill="none" stroke="#303030" stroke-width="0.8" points="406.50,755.80 406.50,818.80"/>
<circle cx="406.50" cy="780.90" r="1.75" fill="#d2232a"/>
<text transform="translate(407.95,745.80) rotate(-90)" font-size="5.4" font-weight="normal" fill="#1a1a1a" stroke="#1a1a1a" stroke-width="0.22">A4584P</text>
<polyline fill="none" stroke="#303030" stroke-width="0.8" points="415.50,755.80 415.50,818.80"/>
<circle cx="415.50" cy="780.90" r="1.75" fill="#8cc63f"/>
<text transform="translate(416.55,745.80) rotate(-90)" font-size="5.4" font-weight="normal" fill="#1a1a1a" stroke="#1a1a1a" stroke-width="0.22">R4692_splice</text>
<polyline fill="none" stroke="#303030" stroke-width="0.8" points="423.50,755.80 423.50,818.80"/>
<circle cx="423.50" cy="780.90" r="1.75" fill="#d2232a"/>
<text transform="translate(424.65,745.80) rotate(-90)" font-size="5.4" font-weight="normal" fill="#1a1a1a" stroke="#1a1a1a" stroke-width="0.22">V4788L</text>
<polyline fill="none" stroke="#303030" stroke-width="0.8" points="436.50,755.80 436.50,818.80"/>
<circle cx="436.50" cy="780.90" r="1.75" fill="#d2232a"/>
<text transform="translate(437.55,745.80) rotate(-90)" font-size="5.4" font-weight="normal" fill="#1a1a1a" stroke="#1a1a1a" stroke-width="0.22">E4919K</text>
<polyline fill="none" stroke="#303030" stroke-width="0.8" points="443.50,755.80 443.50,818.80"/>
<circle cx="443.50" cy="780.90" r="1.75" fill="#d2232a"/>
<text transform="translate(445.35,745.80) rotate(-90)" font-size="5.4" font-weight="normal" fill="#1a1a1a" stroke="#1a1a1a" stroke-width="0.22">M5029L</text>
<polyline fill="none" stroke="#303030" stroke-width="0.8" points="453.50,755.80 453.50,818.80"/>
<circle cx="453.50" cy="780.90" r="1.75" fill="#d2232a"/>
<text transform="translate(454.75,745.80) rotate(-90)" font-size="5.4" font-weight="normal" fill="#1a1a1a" stroke="#1a1a1a" stroke-width="0.22">R5154Q</text>
<rect x="22.70" y="796.20" width="464.55" height="22.60" fill="none" stroke="#3c3c3c" stroke-width="0.8" />
<text x="24.30" y="827.10" font-size="6.3" text-anchor="middle" font-weight="normal" font-style="normal" fill="#8c8c8c" stroke="#8c8c8c" stroke-width="0.2" >2</text>
<text x="34.20" y="827.10" font-size="6.3" text-anchor="middle" font-weight="normal" font-style="normal" fill="#8c8c8c" stroke="#8c8c8c" stroke-width="0.2" >4</text>
<text x="42.30" y="827.10" font-size="6.3" text-anchor="middle" font-weight="normal" font-style="normal" fill="#8c8c8c" stroke="#8c8c8c" stroke-width="0.2" >6</text>
<text x="49.70" y="827.10" font-size="6.3" text-anchor="middle" font-weight="normal" font-style="normal" fill="#8c8c8c" stroke="#8c8c8c" stroke-width="0.2" >8</text>
<line x1="22.70" y1="831.20" x2="487.25" y2="831.20" stroke="#b8b8b8" stroke-width="0.7" />
<line x1="22.70" y1="830.90" x2="22.70" y2="835.00" stroke="#b8b8b8" stroke-width="0.7" />
<line x1="106.60" y1="830.90" x2="106.60" y2="835.00" stroke="#b8b8b8" stroke-width="0.7" />
<line x1="190.50" y1="830.90" x2="190.50" y2="835.00" stroke="#b8b8b8" stroke-width="0.7" />
<line x1="274.40" y1="830.90" x2="274.40" y2="835.00" stroke="#b8b8b8" stroke-width="0.7" />
<line x1="358.30" y1="830.90" x2="358.30" y2="835.00" stroke="#b8b8b8" stroke-width="0.7" />
<line x1="442.20" y1="830.90" x2="442.20" y2="835.00" stroke="#b8b8b8" stroke-width="0.7" />
<line x1="487.25" y1="830.90" x2="487.25" y2="835.00" stroke="#b8b8b8" stroke-width="0.7" />
<line x1="24.30" y1="829.00" x2="24.30" y2="831.20" stroke="#c8c8c8" stroke-width="0.6" />
<line x1="29.00" y1="829.00" x2="29.00" y2="831.20" stroke="#c8c8c8" stroke-width="0.6" />
<line x1="34.20" y1="829.00" x2="34.20" y2="831.20" stroke="#c8c8c8" stroke-width="0.6" />
<line x1="38.00" y1="829.00" x2="38.00" y2="831.20" stroke="#c8c8c8" stroke-width="0.6" />
<line x1="42.30" y1="829.00" x2="42.30" y2="831.20" stroke="#c8c8c8" stroke-width="0.6" />
<line x1="46.00" y1="829.00" x2="46.00" y2="831.20" stroke="#c8c8c8" stroke-width="0.6" />
<line x1="49.70" y1="829.00" x2="49.70" y2="831.20" stroke="#c8c8c8" stroke-width="0.6" />
<text x="22.70" y="844.40" font-size="8.8" text-anchor="middle" font-weight="normal" font-style="normal" fill="#868686" stroke="#868686" stroke-width="0.2" >0</text>
<text x="106.60" y="844.40" font-size="8.8" text-anchor="middle" font-weight="normal" font-style="normal" fill="#868686" stroke="#868686" stroke-width="0.2" >1,000</text>
<text x="190.50" y="844.40" font-size="8.8" text-anchor="middle" font-weight="normal" font-style="normal" fill="#868686" stroke="#868686" stroke-width="0.2" >2,000</text>
<text x="274.40" y="844.40" font-size="8.8" text-anchor="middle" font-weight="normal" font-style="normal" fill="#868686" stroke="#868686" stroke-width="0.2" >3,000</text>
<text x="358.30" y="844.40" font-size="8.8" text-anchor="middle" font-weight="normal" font-style="normal" fill="#868686" stroke="#868686" stroke-width="0.2" >4,000</text>
<text x="442.20" y="844.40" font-size="8.8" text-anchor="middle" font-weight="normal" font-style="normal" fill="#868686" stroke="#868686" stroke-width="0.2" >5,000</text>
<text x="486.00" y="844.40" font-size="8.8" text-anchor="middle" font-weight="normal" font-style="normal" fill="#868686" stroke="#868686" stroke-width="0.2" >5,537</text>
<text x="23.00" y="867.60" font-size="11.4" text-anchor="start" font-weight="bold" font-style="normal" fill="#111" stroke="#111" stroke-width="0.2" >MLL2</text>
<text x="23.10" y="876.50" font-size="6.7" text-anchor="start" font-weight="normal" font-style="normal" fill="#222" stroke="#222" stroke-width="0.2" >NM_003482</text>
<rect x="74.60" y="860.30" width="4.60" height="4.60" fill="#8c3092" stroke="none" stroke-width="0" />
<text x="83.90" y="865.00" font-size="7.4" text-anchor="start" font-weight="normal" font-style="normal" fill="#222" stroke="#222" stroke-width="0.2" >Zinc finger domains</text>
<rect x="74.60" y="871.30" width="4.60" height="4.60" fill="#3a2b86" stroke="none" stroke-width="0" />
<text x="83.90" y="876.00" font-size="7.4" text-anchor="start" font-weight="normal" font-style="normal" fill="#222" stroke="#222" stroke-width="0.2" >Repeat regions</text>
<rect x="74.60" y="882.70" width="4.60" height="4.60" fill="#2b2a80" stroke="none" stroke-width="0" />
<text x="83.90" y="887.40" font-size="7.4" text-anchor="start" font-weight="normal" font-style="normal" fill="#222" stroke="#222" stroke-width="0.2" >SET domain</text>
<circle cx="457.80" cy="853.60" r="1.9" fill="#2b3b8e"/>
<text x="464.00" y="856.35" font-size="7.45" text-anchor="start" font-weight="normal" font-style="normal" fill="#222" stroke="#222" stroke-width="0.2" >Frameshift</text>
<circle cx="457.80" cy="865.80" r="1.9" fill="#d2232a"/>
<text x="464.00" y="868.55" font-size="7.45" text-anchor="start" font-weight="normal" font-style="normal" fill="#222" stroke="#222" stroke-width="0.2" >Missense</text>
<circle cx="457.80" cy="877.30" r="1.9" fill="#1ea2dc"/>
<text x="464.00" y="880.05" font-size="7.45" text-anchor="start" font-weight="normal" font-style="normal" fill="#222" stroke="#222" stroke-width="0.2" >Nonsense</text>
<text x="5.60" y="943.80" font-size="27.6" text-anchor="start" font-weight="bold" font-style="normal" fill="#111" stroke="#111" stroke-width="0.2" >C</text>
<text x="179.00" y="938.40" font-size="7.65" text-anchor="middle" font-weight="bold" font-style="normal" fill="#111" stroke="#111" stroke-width="0.2" >MZ</text>
<text x="179.00" y="949.00" font-size="7.65" text-anchor="middle" font-weight="bold" font-style="normal" fill="#111" stroke="#111" stroke-width="0.2" >development</text>
<text x="236.00" y="938.40" font-size="7.65" text-anchor="middle" font-weight="bold" font-style="normal" fill="#111" stroke="#111" stroke-width="0.2" >Toll-like</text>
<text x="236.00" y="949.00" font-size="7.65" text-anchor="middle" font-weight="bold" font-style="normal" fill="#111" stroke="#111" stroke-width="0.2" >NFkB</text>
<text x="285.00" y="927.80" font-size="7.65" text-anchor="middle" font-weight="bold" font-style="normal" fill="#111" stroke="#111" stroke-width="0.2" >Cell cycle</text>
<text x="285.00" y="938.40" font-size="7.65" text-anchor="middle" font-weight="bold" font-style="normal" fill="#111" stroke="#111" stroke-width="0.2" >Apoptosis</text>
<text x="285.00" y="949.00" font-size="7.65" text-anchor="middle" font-weight="bold" font-style="normal" fill="#111" stroke="#111" stroke-width="0.2" >DNA damage</text>
<text x="340.00" y="949.00" font-size="7.65" text-anchor="middle" font-weight="bold" font-style="normal" fill="#111" stroke="#111" stroke-width="0.2" >Chromatin</text>
<path d="M149.00,965.90 Q149.00,961.90 151.20,961.90 L176.55,961.90 Q178.75,961.90 178.75,958.40 Q178.75,961.90 180.95,961.90 L206.30,961.90 Q208.50,961.90 208.50,965.90" fill="none" stroke="#111" stroke-width="1.45"/>
<path d="M223.50,965.90 Q223.50,961.90 225.70,961.90 L234.55,961.90 Q236.75,961.90 236.75,958.40 Q236.75,961.90 238.95,961.90 L247.80,961.90 Q250.00,961.90 250.00,965.90" fill="none" stroke="#111" stroke-width="1.45"/>
<path d="M258.50,965.90 Q258.50,961.90 260.70,961.90 L282.05,961.90 Q284.25,961.90 284.25,958.40 Q284.25,961.90 286.45,961.90 L307.80,961.90 Q310.00,961.90 310.00,965.90" fill="none" stroke="#111" stroke-width="1.45"/>
<path d="M318.50,965.90 Q318.50,961.90 320.70,961.90 L332.80,961.90 Q335.00,961.90 335.00,958.40 Q335.00,961.90 337.20,961.90 L349.30,961.90 Q351.50,961.90 351.50,965.90" fill="none" stroke="#111" stroke-width="1.45"/>
<text transform="translate(144.53,998.00) rotate(-45) scale(0.92,1)" font-size="8.0" font-weight="bold" font-style="italic" fill="#111" stroke="#111" stroke-width="0.12">KLF2</text>
<text transform="translate(165.58,998.00) rotate(-45) scale(0.92,1)" font-size="8.0" font-weight="bold" font-style="italic" fill="#111" stroke="#111" stroke-width="0.12">NOTCH1</text>
<text transform="translate(186.62,998.00) rotate(-45) scale(0.92,1)" font-size="8.0" font-weight="bold" font-style="italic" fill="#111" stroke="#111" stroke-width="0.12">NOTCH2</text>
<text transform="translate(207.67,998.00) rotate(-45) scale(0.92,1)" font-size="8.0" font-weight="bold" font-style="italic" fill="#111" stroke="#111" stroke-width="0.12">MYD88</text>
<text transform="translate(228.72,998.00) rotate(-45) scale(0.92,1)" font-size="8.0" font-weight="bold" font-style="italic" fill="#111" stroke="#111" stroke-width="0.12">TNFAIP3</text>
<text transform="translate(249.78,998.00) rotate(-45) scale(0.92,1)" font-size="8.0" font-weight="bold" font-style="italic" fill="#111" stroke="#111" stroke-width="0.12">TP53</text>
<text transform="translate(270.82,998.00) rotate(-45) scale(0.92,1)" font-size="8.0" font-weight="bold" font-style="italic" fill="#111" stroke="#111" stroke-width="0.12">CCND3</text>
<text transform="translate(291.88,998.00) rotate(-45) scale(0.92,1)" font-size="8.0" font-weight="bold" font-style="italic" fill="#111" stroke="#111" stroke-width="0.12">ARID1A</text>
<text transform="translate(312.92,998.00) rotate(-45) scale(0.92,1)" font-size="8.0" font-weight="bold" font-style="italic" fill="#111" stroke="#111" stroke-width="0.12">CREBBP</text>
<text transform="translate(333.97,998.00) rotate(-45) scale(0.92,1)" font-size="8.0" font-weight="bold" font-style="italic" fill="#111" stroke="#111" stroke-width="0.12">MLL2</text>
<text x="134.00" y="1012.40" font-size="7.3" text-anchor="end" font-weight="bold" font-style="normal" fill="#111" stroke="#111" stroke-width="0.2"  textLength="57" lengthAdjust="spacingAndGlyphs">No. of mutations</text>
<text x="149.12" y="1012.40" font-size="7.4" text-anchor="middle" font-weight="bold" font-style="normal" fill="#111" stroke="#111" stroke-width="0.2" >21</text>
<text x="170.18" y="1012.40" font-size="7.4" text-anchor="middle" font-weight="bold" font-style="normal" fill="#111" stroke="#111" stroke-width="0.2" >10</text>
<text x="191.22" y="1012.40" font-size="7.4" text-anchor="middle" font-weight="bold" font-style="normal" fill="#111" stroke="#111" stroke-width="0.2" >17</text>
<text x="212.27" y="1012.40" font-size="7.4" text-anchor="middle" font-weight="bold" font-style="normal" fill="#111" stroke="#111" stroke-width="0.2" >12</text>
<text x="233.32" y="1012.40" font-size="7.4" text-anchor="middle" font-weight="bold" font-style="normal" fill="#111" stroke="#111" stroke-width="0.2" >13</text>
<text x="254.38" y="1012.40" font-size="7.4" text-anchor="middle" font-weight="bold" font-style="normal" fill="#111" stroke="#111" stroke-width="0.2" >28</text>
<text x="275.43" y="1012.40" font-size="7.4" text-anchor="middle" font-weight="bold" font-style="normal" fill="#111" stroke="#111" stroke-width="0.2" >15</text>
<text x="296.48" y="1012.40" font-size="7.4" text-anchor="middle" font-weight="bold" font-style="normal" fill="#111" stroke="#111" stroke-width="0.2" >10</text>
<text x="317.52" y="1012.40" font-size="7.4" text-anchor="middle" font-weight="bold" font-style="normal" fill="#111" stroke="#111" stroke-width="0.2" >9</text>
<text x="338.57" y="1012.40" font-size="7.4" text-anchor="middle" font-weight="bold" font-style="normal" fill="#111" stroke="#111" stroke-width="0.2" >20</text>
<text x="136.20" y="1025.68" font-size="7.6" text-anchor="end" font-weight="bold" font-style="normal" fill="#111" stroke="#111" stroke-width="0.2" >Complex karyotype</text>
<rect x="138.60" y="1017.60" width="21.05" height="10.76" fill="#ffffff" stroke="#dedede" stroke-width="1.1" />
<rect x="159.65" y="1017.60" width="21.05" height="10.76" fill="#ffffff" stroke="#dedede" stroke-width="1.1" />
<rect x="180.70" y="1017.60" width="21.05" height="10.76" fill="#ffffff" stroke="#dedede" stroke-width="1.1" />
<rect x="201.75" y="1017.60" width="21.05" height="10.76" fill="#ffffff" stroke="#dedede" stroke-width="1.1" />
<rect x="222.80" y="1017.60" width="21.05" height="10.76" fill="#ffffff" stroke="#dedede" stroke-width="1.1" />
<rect x="243.85" y="1017.60" width="21.05" height="10.76" fill="#426bb8" stroke="#dedede" stroke-width="1.1" />
<rect x="264.90" y="1017.60" width="21.05" height="10.76" fill="#ffffff" stroke="#dedede" stroke-width="1.1" />
<rect x="285.95" y="1017.60" width="21.05" height="10.76" fill="#ffffff" stroke="#dedede" stroke-width="1.1" />
<rect x="307.00" y="1017.60" width="21.05" height="10.76" fill="#ffffff" stroke="#dedede" stroke-width="1.1" />
<rect x="328.05" y="1017.60" width="21.05" height="10.76" fill="#ffffff" stroke="#dedede" stroke-width="1.1" />
<text x="136.20" y="1036.44" font-size="7.6" text-anchor="end" font-weight="bold" font-style="normal" fill="#111" stroke="#111" stroke-width="0.2" >del(7q)</text>
<rect x="138.60" y="1028.36" width="21.05" height="10.76" fill="#426bb8" stroke="#dedede" stroke-width="1.1" />
<rect x="159.65" y="1028.36" width="21.05" height="10.76" fill="#ffffff" stroke="#dedede" stroke-width="1.1" />
<rect x="180.70" y="1028.36" width="21.05" height="10.76" fill="#ffffff" stroke="#dedede" stroke-width="1.1" />
<rect x="201.75" y="1028.36" width="21.05" height="10.76" fill="#ffffff" stroke="#dedede" stroke-width="1.1" />
<rect x="222.80" y="1028.36" width="21.05" height="10.76" fill="#ffffff" stroke="#dedede" stroke-width="1.1" />
<rect x="243.85" y="1028.36" width="21.05" height="10.76" fill="#ffffff" stroke="#dedede" stroke-width="1.1" />
<rect x="264.90" y="1028.36" width="21.05" height="10.76" fill="#ffffff" stroke="#dedede" stroke-width="1.1" />
<rect x="285.95" y="1028.36" width="21.05" height="10.76" fill="#ffffff" stroke="#dedede" stroke-width="1.1" />
<rect x="307.00" y="1028.36" width="21.05" height="10.76" fill="#ffffff" stroke="#dedede" stroke-width="1.1" />
<rect x="328.05" y="1028.36" width="21.05" height="10.76" fill="#ffffff" stroke="#dedede" stroke-width="1.1" />
<text x="136.20" y="1047.20" font-size="7.6" text-anchor="end" font-weight="bold" font-style="normal" fill="#111" stroke="#111" stroke-width="0.2" >del(17p)</text>
<rect x="138.60" y="1039.12" width="21.05" height="10.76" fill="#ffffff" stroke="#dedede" stroke-width="1.1" />
<rect x="159.65" y="1039.12" width="21.05" height="10.76" fill="#ffffff" stroke="#dedede" stroke-width="1.1" />
<rect x="180.70" y="1039.12" width="21.05" height="10.76" fill="#ffffff" stroke="#dedede" stroke-width="1.1" />
<rect x="201.75" y="1039.12" width="21.05" height="10.76" fill="#ffffff" stroke="#dedede" stroke-width="1.1" />
<rect x="222.80" y="1039.12" width="21.05" height="10.76" fill="#ffffff" stroke="#dedede" stroke-width="1.1" />
<rect x="243.85" y="1039.12" width="21.05" height="10.76" fill="#426bb8" stroke="#dedede" stroke-width="1.1" />
<rect x="264.90" y="1039.12" width="21.05" height="10.76" fill="#ffffff" stroke="#dedede" stroke-width="1.1" />
<rect x="285.95" y="1039.12" width="21.05" height="10.76" fill="#ffffff" stroke="#dedede" stroke-width="1.1" />
<rect x="307.00" y="1039.12" width="21.05" height="10.76" fill="#ffffff" stroke="#dedede" stroke-width="1.1" />
<rect x="328.05" y="1039.12" width="21.05" height="10.76" fill="#ffffff" stroke="#dedede" stroke-width="1.1" />
<text x="136.20" y="1057.96" font-size="7.6" text-anchor="end" font-weight="bold" font-style="normal" fill="#111" stroke="#111" stroke-width="0.2" >IGHV 100% identity</text>
<rect x="138.60" y="1049.88" width="21.05" height="10.76" fill="#ffffff" stroke="#dedede" stroke-width="1.1" />
<rect x="159.65" y="1049.88" width="21.05" height="10.76" fill="#ffffff" stroke="#dedede" stroke-width="1.1" />
<rect x="180.70" y="1049.88" width="21.05" height="10.76" fill="#ffffff" stroke="#dedede" stroke-width="1.1" />
<rect x="201.75" y="1049.88" width="21.05" height="10.76" fill="#ffffff" stroke="#dedede" stroke-width="1.1" />
<rect x="222.80" y="1049.88" width="21.05" height="10.76" fill="#ffffff" stroke="#dedede" stroke-width="1.1" />
<rect x="243.85" y="1049.88" width="21.05" height="10.76" fill="#ffffff" stroke="#dedede" stroke-width="1.1" />
<rect x="264.90" y="1049.88" width="21.05" height="10.76" fill="#ffffff" stroke="#dedede" stroke-width="1.1" />
<rect x="285.95" y="1049.88" width="21.05" height="10.76" fill="#ffffff" stroke="#dedede" stroke-width="1.1" />
<rect x="307.00" y="1049.88" width="21.05" height="10.76" fill="#ffffff" stroke="#dedede" stroke-width="1.1" />
<rect x="328.05" y="1049.88" width="21.05" height="10.76" fill="#ffffff" stroke="#dedede" stroke-width="1.1" />
<text x="136.20" y="1068.72" font-size="7.6" text-anchor="end" font-weight="bold" font-style="normal" fill="#111" stroke="#111" stroke-width="0.2" >IGHV1-2*04</text>
<rect x="138.60" y="1060.64" width="21.05" height="10.76" fill="#426bb8" stroke="#dedede" stroke-width="1.1" />
<rect x="159.65" y="1060.64" width="21.05" height="10.76" fill="#426bb8" stroke="#dedede" stroke-width="1.1" />
<rect x="180.70" y="1060.64" width="21.05" height="10.76" fill="#ffffff" stroke="#dedede" stroke-width="1.1" />
<rect x="201.75" y="1060.64" width="21.05" height="10.76" fill="#ffffff" stroke="#dedede" stroke-width="1.1" />
<rect x="222.80" y="1060.64" width="21.05" height="10.76" fill="#ffffff" stroke="#dedede" stroke-width="1.1" />
<rect x="243.85" y="1060.64" width="21.05" height="10.76" fill="#ffffff" stroke="#dedede" stroke-width="1.1" />
<rect x="264.90" y="1060.64" width="21.05" height="10.76" fill="#ffffff" stroke="#dedede" stroke-width="1.1" />
<rect x="285.95" y="1060.64" width="21.05" height="10.76" fill="#ffffff" stroke="#dedede" stroke-width="1.1" />
<rect x="307.00" y="1060.64" width="21.05" height="10.76" fill="#ffffff" stroke="#dedede" stroke-width="1.1" />
<rect x="328.05" y="1060.64" width="21.05" height="10.76" fill="#ffffff" stroke="#dedede" stroke-width="1.1" />
<path d="M357.50,1017.00 Q362.00,1017.00 362.00,1020.00 L362.00,1041.40 Q362.00,1044.40 366.00,1044.40 Q362.00,1044.40 362.00,1047.40 L362.00,1068.80 Q362.00,1071.80 357.50,1071.80" fill="none" stroke="#111" stroke-width="1.45"/>
<text x="370.00" y="1041.70" font-size="7.4" text-anchor="start" font-weight="bold" font-style="normal" fill="#111" stroke="#111" stroke-width="0.2" >Genomic</text>
<text x="370.00" y="1052.70" font-size="7.6" text-anchor="start" font-weight="bold" font-style="normal" fill="#111" stroke="#111" stroke-width="0.2" >Feature</text>
<text x="136.20" y="1090.65" font-size="7.4" text-anchor="end" font-weight="bold" font-style="italic" fill="#111" stroke="#111" stroke-width="0.2" >MLL2</text>
<rect x="138.60" y="1082.50" width="21.05" height="10.90" fill="#426bb8" stroke="#dedede" stroke-width="1.1" />
<rect x="159.65" y="1082.50" width="21.05" height="10.90" fill="#6d1f6b" stroke="#dedede" stroke-width="1.1" />
<rect x="180.70" y="1082.50" width="21.05" height="10.90" fill="#426bb8" stroke="#dedede" stroke-width="1.1" />
<rect x="201.75" y="1082.50" width="21.05" height="10.90" fill="#ffffff" stroke="#dedede" stroke-width="1.1" />
<rect x="222.80" y="1082.50" width="21.05" height="10.90" fill="#6d1f6b" stroke="#dedede" stroke-width="1.1" />
<rect x="243.85" y="1082.50" width="21.05" height="10.90" fill="#ffffff" stroke="#dedede" stroke-width="1.1" />
<rect x="264.90" y="1082.50" width="21.05" height="10.90" fill="#ffffff" stroke="#dedede" stroke-width="1.1" />
<rect x="285.95" y="1082.50" width="21.05" height="10.90" fill="#426bb8" stroke="#dedede" stroke-width="1.1" />
<rect x="307.00" y="1082.50" width="21.05" height="10.90" fill="#ffffff" stroke="#dedede" stroke-width="1.1" />
<text x="136.20" y="1101.55" font-size="7.4" text-anchor="end" font-weight="bold" font-style="italic" fill="#111" stroke="#111" stroke-width="0.2" >CREBBP</text>
<rect x="138.60" y="1093.40" width="21.05" height="10.90" fill="#426bb8" stroke="#dedede" stroke-width="1.1" />
<rect x="159.65" y="1093.40" width="21.05" height="10.90" fill="#ffffff" stroke="#dedede" stroke-width="1.1" />
<rect x="180.70" y="1093.40" width="21.05" height="10.90" fill="#6d1f6b" stroke="#dedede" stroke-width="1.1" />
<rect x="201.75" y="1093.40" width="21.05" height="10.90" fill="#ffffff" stroke="#dedede" stroke-width="1.1" />
<rect x="222.80" y="1093.40" width="21.05" height="10.90" fill="#ffffff" stroke="#dedede" stroke-width="1.1" />
<rect x="243.85" y="1093.40" width="21.05" height="10.90" fill="#6d1f6b" stroke="#dedede" stroke-width="1.1" />
<rect x="264.90" y="1093.40" width="21.05" height="10.90" fill="#ffffff" stroke="#dedede" stroke-width="1.1" />
<rect x="285.95" y="1093.40" width="21.05" height="10.90" fill="#6d1f6b" stroke="#dedede" stroke-width="1.1" />
<text x="136.20" y="1112.45" font-size="7.4" text-anchor="end" font-weight="bold" font-style="italic" fill="#111" stroke="#111" stroke-width="0.2" >ARID1A</text>
<rect x="138.60" y="1104.30" width="21.05" height="10.90" fill="#426bb8" stroke="#dedede" stroke-width="1.1" />
<rect x="159.65" y="1104.30" width="21.05" height="10.90" fill="#ffffff" stroke="#dedede" stroke-width="1.1" />
<rect x="180.70" y="1104.30" width="21.05" height="10.90" fill="#426bb8" stroke="#dedede" stroke-width="1.1" />
<rect x="201.75" y="1104.30" width="21.05" height="10.90" fill="#ffffff" stroke="#dedede" stroke-width="1.1" />
<rect x="222.80" y="1104.30" width="21.05" height="10.90" fill="#426bb8" stroke="#dedede" stroke-width="1.1" />
<rect x="243.85" y="1104.30" width="21.05" height="10.90" fill="#ffffff" stroke="#dedede" stroke-width="1.1" />
<rect x="264.90" y="1104.30" width="21.05" height="10.90" fill="#ffffff" stroke="#dedede" stroke-width="1.1" />
<text x="136.20" y="1123.35" font-size="7.4" text-anchor="end" font-weight="bold" font-style="italic" fill="#111" stroke="#111" stroke-width="0.2" >CCND3</text>
<rect x="138.60" y="1115.20" width="21.05" height="10.90" fill="#426bb8" stroke="#dedede" stroke-width="1.1" />
<rect x="159.65" y="1115.20" width="21.05" height="10.90" fill="#ffffff" stroke="#dedede" stroke-width="1.1" />
<rect x="180.70" y="1115.20" width="21.05" height="10.90" fill="#ffffff" stroke="#dedede" stroke-width="1.1" />
<rect x="201.75" y="1115.20" width="21.05" height="10.90" fill="#6d1f6b" stroke="#dedede" stroke-width="1.1" />
<rect x="222.80" y="1115.20" width="21.05" height="10.90" fill="#ffffff" stroke="#dedede" stroke-width="1.1" />
<rect x="243.85" y="1115.20" width="21.05" height="10.90" fill="#ffffff" stroke="#dedede" stroke-width="1.1" />
<text x="136.20" y="1134.25" font-size="7.4" text-anchor="end" font-weight="bold" font-style="italic" fill="#111" stroke="#111" stroke-width="0.2" >TP53</text>
<rect x="138.60" y="1126.10" width="21.05" height="10.90" fill="#6d1f6b" stroke="#dedede" stroke-width="1.1" />
<rect x="159.65" y="1126.10" width="21.05" height="10.90" fill="#6d1f6b" stroke="#dedede" stroke-width="1.1" />
<rect x="180.70" y="1126.10" width="21.05" height="10.90" fill="#ffffff" stroke="#dedede" stroke-width="1.1" />
<rect x="201.75" y="1126.10" width="21.05" height="10.90" fill="#6d1f6b" stroke="#dedede" stroke-width="1.1" />
<rect x="222.80" y="1126.10" width="21.05" height="10.90" fill="#6d1f6b" stroke="#dedede" stroke-width="1.1" />
<text x="136.20" y="1145.15" font-size="7.4" text-anchor="end" font-weight="bold" font-style="italic" fill="#111" stroke="#111" stroke-width="0.2" >TNFAIP3</text>
<rect x="138.60" y="1137.00" width="21.05" height="10.90" fill="#426bb8" stroke="#dedede" stroke-width="1.1" />
<rect x="159.65" y="1137.00" width="21.05" height="10.90" fill="#426bb8" stroke="#dedede" stroke-width="1.1" />
<rect x="180.70" y="1137.00" width="21.05" height="10.90" fill="#6d1f6b" stroke="#dedede" stroke-width="1.1" />
<rect x="201.75" y="1137.00" width="21.05" height="10.90" fill="#ffffff" stroke="#dedede" stroke-width="1.1" />
<text x="136.20" y="1156.05" font-size="7.4" text-anchor="end" font-weight="bold" font-style="italic" fill="#111" stroke="#111" stroke-width="0.2" >MYD88</text>
<rect x="138.60" y="1147.90" width="21.05" height="10.90" fill="#ffffff" stroke="#dedede" stroke-width="1.1" />
<rect x="159.65" y="1147.90" width="21.05" height="10.90" fill="#6d1f6b" stroke="#dedede" stroke-width="1.1" />
<rect x="180.70" y="1147.90" width="21.05" height="10.90" fill="#6d1f6b" stroke="#dedede" stroke-width="1.1" />
<text x="136.20" y="1166.95" font-size="7.4" text-anchor="end" font-weight="bold" font-style="italic" fill="#111" stroke="#111" stroke-width="0.2" >NOTCH2</text>
<rect x="138.60" y="1158.80" width="21.05" height="10.90" fill="#426bb8" stroke="#dedede" stroke-width="1.1" />
<rect x="159.65" y="1158.80" width="21.05" height="10.90" fill="#ffffff" stroke="#dedede" stroke-width="1.1" />
<text x="136.20" y="1177.85" font-size="7.4" text-anchor="end" font-weight="bold" font-style="italic" fill="#111" stroke="#111" stroke-width="0.2" >NOTCH1</text>
<rect x="138.60" y="1169.70" width="21.05" height="10.90" fill="#ffffff" stroke="#dedede" stroke-width="1.1" />
<text x="136.20" y="1188.75" font-size="7.4" text-anchor="end" font-weight="bold" font-style="italic" fill="#111" stroke="#111" stroke-width="0.2" >KLF2</text>
<text x="256.50" y="1163.80" font-size="7.8" font-weight="bold" font-style="italic" fill="#111" textLength="96" lengthAdjust="spacingAndGlyphs">Gene by genomic feature</text>
<line x1="256.50" y1="1165.10" x2="352.50" y2="1165.10" stroke="#111" stroke-width="0.7" />
<text x="356.00" y="1163.80" font-size="7.6" font-weight="bold" font-style="italic" fill="#111" textLength="13" lengthAdjust="spacingAndGlyphs">Key</text>
<line x1="356.00" y1="1165.10" x2="369.00" y2="1165.10" stroke="#111" stroke-width="0.7" />
<text x="374.00" y="1163.80" font-size="7.8" font-weight="bold" font-style="italic" fill="#111" textLength="52" lengthAdjust="spacingAndGlyphs">Gene by gene</text>
<line x1="374.00" y1="1165.10" x2="426.00" y2="1165.10" stroke="#111" stroke-width="0.7" />
<text x="244.00" y="1175.90" font-size="7.7" fill="#111" stroke="#111" stroke-width="0.15" textLength="107" lengthAdjust="spacingAndGlyphs">Negative association (<tspan font-style="italic">P</tspan> &lt; 0.01)</text>
<text x="249.00" y="1186.70" font-size="7.7" fill="#111" stroke="#111" stroke-width="0.15" textLength="102" lengthAdjust="spacingAndGlyphs">Positive association (<tspan font-style="italic">P</tspan> &lt; 0.01)</text>
<text x="299.00" y="1197.60" font-size="7.7" text-anchor="start" font-weight="normal" font-style="normal" fill="#111" stroke="#111" stroke-width="0.2"  textLength="50" lengthAdjust="spacingAndGlyphs">Nonsignificant</text>
<rect x="355.00" y="1167.50" width="16.00" height="11.00" fill="#6d1f6b" stroke="#dedede" stroke-width="0.6" />
<rect x="355.00" y="1178.50" width="16.00" height="10.60" fill="#426bb8" stroke="#dedede" stroke-width="0.6" />
<rect x="355.00" y="1189.10" width="16.00" height="10.90" fill="#ffffff" stroke="#dedede" stroke-width="0.6" />
<text x="374.00" y="1175.90" font-size="7.7" fill="#111" stroke="#111" stroke-width="0.15" textLength="105" lengthAdjust="spacingAndGlyphs">Mutually exclusive (<tspan font-style="italic">P</tspan> &lt; 0.001)</text>
<text x="374.00" y="1186.70" font-size="7.7" fill="#111" stroke="#111" stroke-width="0.15" textLength="80" lengthAdjust="spacingAndGlyphs">Co-occuring (<tspan font-style="italic">P</tspan> &lt; 0.001)</text>
<text x="374.00" y="1197.60" font-size="7.7" text-anchor="start" font-weight="normal" font-style="normal" fill="#111" stroke="#111" stroke-width="0.2"  textLength="50" lengthAdjust="spacingAndGlyphs">Nonsignificant</text>
</svg>
</body></html>
